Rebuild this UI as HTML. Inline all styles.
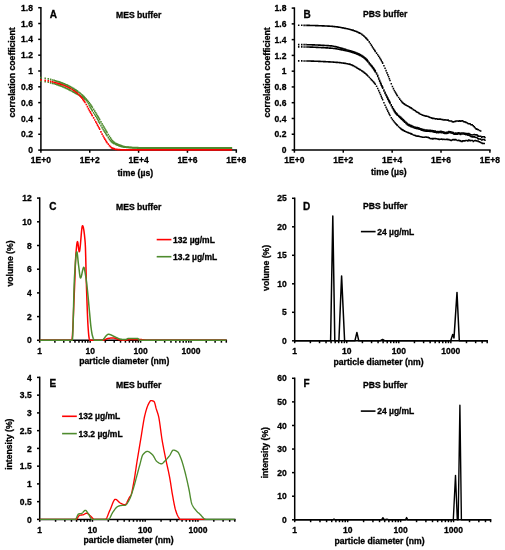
<!DOCTYPE html>
<html><head><meta charset="utf-8"><style>
html,body{margin:0;padding:0;background:#fff;}
svg{display:block;will-change:transform;font-family:'Liberation Sans', sans-serif;font-weight:bold;fill:#000;font-variant-ligatures:none;font-feature-settings:"liga" 0,"clig" 0;}
text{stroke:#000;stroke-width:0.3px;}
</style></head><body>
<svg width="505" height="550" viewBox="0 0 505 550">
<rect width="505" height="550" fill="#fff"/>
<line x1="40.9" y1="6.95" x2="40.9" y2="150.85" stroke="#000" stroke-width="1.5"/>
<line x1="38.2" y1="150.1" x2="40.9" y2="150.1" stroke="#000" stroke-width="1.5"/>
<text x="32.9" y="153.2" text-anchor="end" font-size="8.5" >0</text>
<line x1="38.2" y1="134.28" x2="40.9" y2="134.28" stroke="#000" stroke-width="1.5"/>
<text x="32.9" y="137.38" text-anchor="end" font-size="8.5" >0.2</text>
<line x1="38.2" y1="118.46" x2="40.9" y2="118.46" stroke="#000" stroke-width="1.5"/>
<text x="32.9" y="121.56" text-anchor="end" font-size="8.5" >0.4</text>
<line x1="38.2" y1="102.63" x2="40.9" y2="102.63" stroke="#000" stroke-width="1.5"/>
<text x="32.9" y="105.73" text-anchor="end" font-size="8.5" >0.6</text>
<line x1="38.2" y1="86.81" x2="40.9" y2="86.81" stroke="#000" stroke-width="1.5"/>
<text x="32.9" y="89.91" text-anchor="end" font-size="8.5" >0.8</text>
<line x1="38.2" y1="70.99" x2="40.9" y2="70.99" stroke="#000" stroke-width="1.5"/>
<text x="32.9" y="74.09" text-anchor="end" font-size="8.5" >1</text>
<line x1="38.2" y1="55.17" x2="40.9" y2="55.17" stroke="#000" stroke-width="1.5"/>
<text x="32.9" y="58.27" text-anchor="end" font-size="8.5" >1.2</text>
<line x1="38.2" y1="39.34" x2="40.9" y2="39.34" stroke="#000" stroke-width="1.5"/>
<text x="32.9" y="42.44" text-anchor="end" font-size="8.5" >1.4</text>
<line x1="38.2" y1="23.52" x2="40.9" y2="23.52" stroke="#000" stroke-width="1.5"/>
<text x="32.9" y="26.62" text-anchor="end" font-size="8.5" >1.6</text>
<line x1="38.2" y1="7.7" x2="40.9" y2="7.7" stroke="#000" stroke-width="1.5"/>
<text x="32.9" y="10.8" text-anchor="end" font-size="8.5" >1.8</text>
<line x1="40.15" y1="150.1" x2="237.05" y2="150.1" stroke="#000" stroke-width="1.5"/>
<line x1="40.9" y1="150.1" x2="40.9" y2="152.8" stroke="#000" stroke-width="1.5"/>
<line x1="89.75" y1="150.1" x2="89.75" y2="152.8" stroke="#000" stroke-width="1.5"/>
<line x1="138.6" y1="150.1" x2="138.6" y2="152.8" stroke="#000" stroke-width="1.5"/>
<line x1="187.45" y1="150.1" x2="187.45" y2="152.8" stroke="#000" stroke-width="1.5"/>
<line x1="236.3" y1="150.1" x2="236.3" y2="152.8" stroke="#000" stroke-width="1.5"/>
<text x="40.9" y="163.3" text-anchor="middle" font-size="8.5" >1E+0</text>
<text x="89.75" y="163.3" text-anchor="middle" font-size="8.5" >1E+2</text>
<text x="138.6" y="163.3" text-anchor="middle" font-size="8.5" >1E+4</text>
<text x="187.45" y="163.3" text-anchor="middle" font-size="8.5" >1E+6</text>
<text x="236.3" y="163.3" text-anchor="middle" font-size="8.5" >1E+8</text>
<text x="135.3" y="175.5" text-anchor="middle" font-size="8.65" >time (µs)</text>
<text x="14.9" y="72.4" text-anchor="middle" font-size="8.65" transform="rotate(-90 14.9 72.4)">correlation coefficient</text>
<text x="49.8" y="17.7" text-anchor="start" font-size="10.0" >A</text>
<text x="116" y="17.7" text-anchor="start" font-size="8.6" >MES buffer</text>
<path d="M40.15 80.27h1.5v1.7h-1.5zM44.45 80.8h1.5v1.7h-1.5zM47.5 81.38h1.5v1.7h-1.5zM49.87 81.94h1.5v1.7h-1.5zM51.8 82.45h1.5v1.7h-1.5zM53.44 82.92h1.5v1.7h-1.5zM54.86 83.35h1.5v1.7h-1.5zM56.1 83.75h1.5v1.7h-1.5zM57.22 84.12h1.5v1.7h-1.5zM58.23 84.46h1.5v1.7h-1.5zM59.16 84.78h1.5v1.7h-1.5zM60.01 85.08h1.5v1.7h-1.5zM60.79 85.38h1.5v1.7h-1.5zM61.52 85.67h1.5v1.7h-1.5zM62.21 85.95h1.5v1.7h-1.5zM63.46 86.48h1.5v1.7h-1.5zM64.58 86.99h1.5v1.7h-1.5zM65.59 87.46h1.5v1.7h-1.5zM66.51 87.91h1.5v1.7h-1.5zM67.36 88.33h1.5v1.7h-1.5zM68.14 88.73h1.5v1.7h-1.5zM68.88 89.11h1.5v1.7h-1.5zM69.56 89.47h1.5v1.7h-1.5zM70.81 90.14h1.5v1.7h-1.5zM71.93 90.75h1.5v1.7h-1.5zM72.94 91.3h1.5v1.7h-1.5zM73.86 91.82h1.5v1.7h-1.5zM74.71 92.3h1.5v1.7h-1.5zM75.5 92.74h1.5v1.7h-1.5zM76.23 93.13h1.5v1.7h-1.5zM76.91 93.5h1.5v1.7h-1.5zM78.16 94.17h1.5v1.7h-1.5zM79.28 94.79h1.5v1.7h-1.5zM80.29 95.39h1.5v1.7h-1.5zM81.21 95.97h1.5v1.7h-1.5zM82.06 96.55h1.5v1.7h-1.5zM82.85 97.13h1.5v1.7h-1.5zM83.58 97.72h1.5v1.7h-1.5zM84.27 98.31h1.5v1.7h-1.5zM85.52 99.56h1.5v1.7h-1.5zM86.63 101.15h1.5v1.7h-1.5zM87.64 102.91h1.5v1.7h-1.5zM88.57 104.66h1.5v1.7h-1.5zM89.42 106.26h1.5v1.7h-1.5zM90.2 107.67h1.5v1.7h-1.5zM90.93 108.87h1.5v1.7h-1.5zM91.62 109.97h1.5v1.7h-1.5zM92.87 111.93h1.5v1.7h-1.5zM93.99 113.69h1.5v1.7h-1.5zM95 115.31h1.5v1.7h-1.5zM95.92 116.85h1.5v1.7h-1.5zM96.77 118.34h1.5v1.7h-1.5zM97.55 119.8h1.5v1.7h-1.5zM98.29 121.18h1.5v1.7h-1.5zM98.97 122.49h1.5v1.7h-1.5zM100.22 124.82h1.5v1.7h-1.5zM101.34 126.78h1.5v1.7h-1.5zM102.35 128.49h1.5v1.7h-1.5zM103.27 130.01h1.5v1.7h-1.5zM104.12 131.37h1.5v1.7h-1.5zM104.91 132.61h1.5v1.7h-1.5zM105.64 133.74h1.5v1.7h-1.5zM106.32 134.78h1.5v1.7h-1.5zM107.57 136.7h1.5v1.7h-1.5zM108.69 138.46h1.5v1.7h-1.5zM109.7 139.87h1.5v1.7h-1.5zM110.62 140.85h1.5v1.7h-1.5zM111.47 141.5h1.5v1.7h-1.5zM112.26 142.04h1.5v1.7h-1.5zM112.99 142.49h1.5v1.7h-1.5zM113.68 142.87h1.5v1.7h-1.5zM114.93 143.5h1.5v1.7h-1.5zM116.04 143.98h1.5v1.7h-1.5zM117.05 144.38h1.5v1.7h-1.5zM117.98 144.72h1.5v1.7h-1.5zM118.83 145.02h1.5v1.7h-1.5zM119.61 145.29h1.5v1.7h-1.5zM120.34 145.52h1.5v1.7h-1.5zM121.03 145.72h1.5v1.7h-1.5zM122.28 146.02h1.5v1.7h-1.5zM123.4 146.19h1.5v1.7h-1.5zM124.41 146.31h1.5v1.7h-1.5zM125.33 146.41h1.5v1.7h-1.5zM126.18 146.51h1.5v1.7h-1.5zM126.97 146.59h1.5v1.7h-1.5zM127.7 146.66h1.5v1.7h-1.5zM128.38 146.72h1.5v1.7h-1.5zM129.63 146.82h1.5v1.7h-1.5zM130.75 146.91h1.5v1.7h-1.5zM131.76 146.97h1.5v1.7h-1.5zM132.68 147.03h1.5v1.7h-1.5zM133.53 147.07h1.5v1.7h-1.5zM134.32 147.11h1.5v1.7h-1.5zM135.05 147.13h1.5v1.7h-1.5zM135.73 147.15h1.5v1.7h-1.5zM136.98 147.18h1.5v1.7h-1.5zM138.1 147.2h1.5v1.7h-1.5zM139.11 147.2h1.5v1.7h-1.5zM140.04 147.21h1.5v1.7h-1.5zM140.88 147.22h1.5v1.7h-1.5zM141.67 147.22h1.5v1.7h-1.5zM142.4 147.23h1.5v1.7h-1.5zM143.09 147.23h1.5v1.7h-1.5zM144.34 147.24h1.5v1.7h-1.5zM145.45 147.25h1.5v1.7h-1.5zM146.47 147.26h1.5v1.7h-1.5zM147.39 147.27h1.5v1.7h-1.5zM148.24 147.27h1.5v1.7h-1.5zM149.02 147.28h1.5v1.7h-1.5zM149.76 147.28h1.5v1.7h-1.5zM150.44 147.29h1.5v1.7h-1.5zM151.69 147.3h1.5v1.7h-1.5zM152.81 147.3h1.5v1.7h-1.5zM153.82 147.31h1.5v1.7h-1.5zM154.74 147.31h1.5v1.7h-1.5zM155.59 147.32h1.5v1.7h-1.5zM156.38 147.32h1.5v1.7h-1.5zM157.11 147.33h1.5v1.7h-1.5zM157.79 147.33h1.5v1.7h-1.5zM159.04 147.34h1.5v1.7h-1.5zM160.16 147.35h1.5v1.7h-1.5zM161.17 147.35h1.5v1.7h-1.5zM162.09 147.36h1.5v1.7h-1.5zM162.94 147.36h1.5v1.7h-1.5zM163.73 147.37h1.5v1.7h-1.5zM164.46 147.37h1.5v1.7h-1.5zM165.15 147.37h1.5v1.7h-1.5zM166.39 147.38h1.5v1.7h-1.5zM167.51 147.38h1.5v1.7h-1.5zM168.52 147.39h1.5v1.7h-1.5zM169.45 147.39h1.5v1.7h-1.5zM170.3 147.4h1.5v1.7h-1.5zM171.08 147.4h1.5v1.7h-1.5zM171.81 147.4h1.5v1.7h-1.5zM172.5 147.41h1.5v1.7h-1.5zM173.75 147.41h1.5v1.7h-1.5zM174.86 147.42h1.5v1.7h-1.5zM175.88 147.42h1.5v1.7h-1.5zM176.8 147.42h1.5v1.7h-1.5zM177.65 147.43h1.5v1.7h-1.5zM178.43 147.43h1.5v1.7h-1.5zM179.17 147.43h1.5v1.7h-1.5zM179.85 147.43h1.5v1.7h-1.5zM181.1 147.44h1.5v1.7h-1.5zM182.22 147.44h1.5v1.7h-1.5zM183.23 147.44h1.5v1.7h-1.5zM184.15 147.45h1.5v1.7h-1.5zM185 147.45h1.5v1.7h-1.5zM185.79 147.45h1.5v1.7h-1.5zM186.52 147.45h1.5v1.7h-1.5zM187.2 147.46h1.5v1.7h-1.5zM188.45 147.46h1.5v1.7h-1.5zM189.57 147.46h1.5v1.7h-1.5zM190.58 147.47h1.5v1.7h-1.5zM191.5 147.47h1.5v1.7h-1.5zM192.35 147.47h1.5v1.7h-1.5zM193.14 147.47h1.5v1.7h-1.5zM193.87 147.47h1.5v1.7h-1.5zM194.56 147.47h1.5v1.7h-1.5zM195.81 147.48h1.5v1.7h-1.5zM196.92 147.48h1.5v1.7h-1.5zM197.93 147.48h1.5v1.7h-1.5zM198.86 147.48h1.5v1.7h-1.5zM199.71 147.48h1.5v1.7h-1.5zM200.49 147.49h1.5v1.7h-1.5zM201.22 147.49h1.5v1.7h-1.5zM201.91 147.49h1.5v1.7h-1.5zM203.16 147.49h1.5v1.7h-1.5zM204.28 147.49h1.5v1.7h-1.5zM205.29 147.49h1.5v1.7h-1.5zM206.21 147.49h1.5v1.7h-1.5zM207.06 147.5h1.5v1.7h-1.5zM207.84 147.5h1.5v1.7h-1.5zM208.58 147.5h1.5v1.7h-1.5zM209.26 147.5h1.5v1.7h-1.5zM210.51 147.5h1.5v1.7h-1.5zM211.63 147.5h1.5v1.7h-1.5zM212.64 147.5h1.5v1.7h-1.5zM213.56 147.5h1.5v1.7h-1.5zM214.41 147.5h1.5v1.7h-1.5zM215.2 147.5h1.5v1.7h-1.5zM215.93 147.5h1.5v1.7h-1.5zM216.61 147.51h1.5v1.7h-1.5zM217.86 147.51h1.5v1.7h-1.5zM218.98 147.51h1.5v1.7h-1.5zM219.99 147.51h1.5v1.7h-1.5zM220.91 147.51h1.5v1.7h-1.5zM221.76 147.51h1.5v1.7h-1.5zM222.55 147.51h1.5v1.7h-1.5zM223.28 147.51h1.5v1.7h-1.5zM223.97 147.51h1.5v1.7h-1.5zM225.22 147.51h1.5v1.7h-1.5zM226.33 147.51h1.5v1.7h-1.5zM227.34 147.51h1.5v1.7h-1.5zM228.27 147.51h1.5v1.7h-1.5zM229.12 147.51h1.5v1.7h-1.5zM229.9 147.51h1.5v1.7h-1.5zM230.63 147.51h1.5v1.7h-1.5z" fill="#4e8b2e"/>
<path d="M40.15 79h1.5v1.7h-1.5zM44.45 79.45h1.5v1.7h-1.5zM47.5 79.98h1.5v1.7h-1.5zM49.87 80.49h1.5v1.7h-1.5zM51.8 80.96h1.5v1.7h-1.5zM53.44 81.39h1.5v1.7h-1.5zM54.86 81.78h1.5v1.7h-1.5zM56.1 82.13h1.5v1.7h-1.5zM57.22 82.46h1.5v1.7h-1.5zM58.23 82.76h1.5v1.7h-1.5zM59.16 83.04h1.5v1.7h-1.5zM60.01 83.3h1.5v1.7h-1.5zM60.79 83.56h1.5v1.7h-1.5zM61.52 83.81h1.5v1.7h-1.5zM62.21 84.05h1.5v1.7h-1.5zM63.46 84.53h1.5v1.7h-1.5zM64.58 84.99h1.5v1.7h-1.5zM65.59 85.43h1.5v1.7h-1.5zM66.51 85.86h1.5v1.7h-1.5zM67.36 86.27h1.5v1.7h-1.5zM68.14 86.66h1.5v1.7h-1.5zM68.88 87.05h1.5v1.7h-1.5zM69.56 87.42h1.5v1.7h-1.5zM70.81 88.14h1.5v1.7h-1.5zM71.93 88.82h1.5v1.7h-1.5zM72.94 89.47h1.5v1.7h-1.5zM73.86 90.08h1.5v1.7h-1.5zM74.71 90.67h1.5v1.7h-1.5zM75.5 91.25h1.5v1.7h-1.5zM76.23 91.86h1.5v1.7h-1.5zM76.91 92.48h1.5v1.7h-1.5zM78.16 93.73h1.5v1.7h-1.5zM79.28 94.98h1.5v1.7h-1.5zM80.29 96.2h1.5v1.7h-1.5zM81.21 97.37h1.5v1.7h-1.5zM82.06 98.51h1.5v1.7h-1.5zM82.85 99.59h1.5v1.7h-1.5zM83.58 100.62h1.5v1.7h-1.5zM84.27 101.61h1.5v1.7h-1.5zM85.52 103.63h1.5v1.7h-1.5zM86.63 105.71h1.5v1.7h-1.5zM87.64 107.68h1.5v1.7h-1.5zM88.57 109.44h1.5v1.7h-1.5zM89.42 110.98h1.5v1.7h-1.5zM90.2 112.38h1.5v1.7h-1.5zM90.93 113.68h1.5v1.7h-1.5zM91.62 114.89h1.5v1.7h-1.5zM92.87 117.11h1.5v1.7h-1.5zM93.99 119.13h1.5v1.7h-1.5zM95 120.95h1.5v1.7h-1.5zM95.92 122.62h1.5v1.7h-1.5zM96.77 124.18h1.5v1.7h-1.5zM97.55 125.65h1.5v1.7h-1.5zM98.29 127.04h1.5v1.7h-1.5zM98.97 128.4h1.5v1.7h-1.5zM100.22 130.96h1.5v1.7h-1.5zM101.34 133.23h1.5v1.7h-1.5zM102.35 135.15h1.5v1.7h-1.5zM103.27 136.78h1.5v1.7h-1.5zM104.12 138.26h1.5v1.7h-1.5zM104.91 139.58h1.5v1.7h-1.5zM105.64 140.74h1.5v1.7h-1.5zM106.32 141.74h1.5v1.7h-1.5zM107.57 143.35h1.5v1.7h-1.5zM108.69 144.71h1.5v1.7h-1.5zM109.7 145.83h1.5v1.7h-1.5zM110.62 146.68h1.5v1.7h-1.5zM111.47 147.25h1.5v1.7h-1.5zM112.26 147.59h1.5v1.7h-1.5zM112.99 147.87h1.5v1.7h-1.5zM113.68 148.1h1.5v1.7h-1.5zM114.93 148.43h1.5v1.7h-1.5zM116.04 148.6h1.5v1.7h-1.5zM117.05 148.7h1.5v1.7h-1.5zM117.98 148.77h1.5v1.7h-1.5zM118.83 148.84h1.5v1.7h-1.5zM119.61 148.89h1.5v1.7h-1.5zM120.34 148.93h1.5v1.7h-1.5zM121.03 148.97h1.5v1.7h-1.5zM122.28 149.03h1.5v1.7h-1.5zM123.4 149.06h1.5v1.7h-1.5zM124.41 149.08h1.5v1.7h-1.5zM125.33 149.09h1.5v1.7h-1.5zM126.18 149.09h1.5v1.7h-1.5zM126.97 149.09h1.5v1.7h-1.5zM127.7 149.09h1.5v1.7h-1.5zM128.38 149.09h1.5v1.7h-1.5zM129.63 149.09h1.5v1.7h-1.5zM130.75 149.09h1.5v1.7h-1.5zM131.76 149.09h1.5v1.7h-1.5zM132.68 149.09h1.5v1.7h-1.5zM133.53 149.09h1.5v1.7h-1.5zM134.32 149.09h1.5v1.7h-1.5zM135.05 149.09h1.5v1.7h-1.5zM135.73 149.09h1.5v1.7h-1.5zM136.98 149.09h1.5v1.7h-1.5zM138.1 149.09h1.5v1.7h-1.5zM139.11 149.09h1.5v1.7h-1.5zM140.04 149.09h1.5v1.7h-1.5zM140.88 149.09h1.5v1.7h-1.5zM141.67 149.09h1.5v1.7h-1.5zM142.4 149.09h1.5v1.7h-1.5zM143.09 149.09h1.5v1.7h-1.5zM144.34 149.09h1.5v1.7h-1.5zM145.45 149.09h1.5v1.7h-1.5zM146.47 149.09h1.5v1.7h-1.5zM147.39 149.09h1.5v1.7h-1.5zM148.24 149.09h1.5v1.7h-1.5zM149.02 149.09h1.5v1.7h-1.5zM149.76 149.09h1.5v1.7h-1.5zM150.44 149.09h1.5v1.7h-1.5zM151.69 149.09h1.5v1.7h-1.5zM152.81 149.09h1.5v1.7h-1.5zM153.82 149.09h1.5v1.7h-1.5zM154.74 149.09h1.5v1.7h-1.5zM155.59 149.09h1.5v1.7h-1.5zM156.38 149.09h1.5v1.7h-1.5zM157.11 149.09h1.5v1.7h-1.5zM157.79 149.09h1.5v1.7h-1.5zM159.04 149.09h1.5v1.7h-1.5zM160.16 149.09h1.5v1.7h-1.5zM161.17 149.09h1.5v1.7h-1.5zM162.09 149.09h1.5v1.7h-1.5zM162.94 149.09h1.5v1.7h-1.5zM163.73 149.09h1.5v1.7h-1.5zM164.46 149.09h1.5v1.7h-1.5zM165.15 149.09h1.5v1.7h-1.5zM166.39 149.09h1.5v1.7h-1.5zM167.51 149.09h1.5v1.7h-1.5zM168.52 149.09h1.5v1.7h-1.5zM169.45 149.09h1.5v1.7h-1.5zM170.3 149.09h1.5v1.7h-1.5zM171.08 149.09h1.5v1.7h-1.5zM171.81 149.09h1.5v1.7h-1.5zM172.5 149.09h1.5v1.7h-1.5zM173.75 149.09h1.5v1.7h-1.5zM174.86 149.09h1.5v1.7h-1.5zM175.88 149.09h1.5v1.7h-1.5zM176.8 149.09h1.5v1.7h-1.5zM177.65 149.09h1.5v1.7h-1.5zM178.43 149.09h1.5v1.7h-1.5zM179.17 149.09h1.5v1.7h-1.5zM179.85 149.09h1.5v1.7h-1.5zM181.1 149.09h1.5v1.7h-1.5zM182.22 149.09h1.5v1.7h-1.5zM183.23 149.09h1.5v1.7h-1.5zM184.15 149.09h1.5v1.7h-1.5zM185 149.09h1.5v1.7h-1.5zM185.79 149.09h1.5v1.7h-1.5zM186.52 149.09h1.5v1.7h-1.5zM187.2 149.09h1.5v1.7h-1.5zM188.45 149.09h1.5v1.7h-1.5zM189.57 149.09h1.5v1.7h-1.5zM190.58 149.09h1.5v1.7h-1.5zM191.5 149.09h1.5v1.7h-1.5zM192.35 149.09h1.5v1.7h-1.5zM193.14 149.09h1.5v1.7h-1.5zM193.87 149.09h1.5v1.7h-1.5zM194.56 149.09h1.5v1.7h-1.5zM195.81 149.09h1.5v1.7h-1.5zM196.92 149.09h1.5v1.7h-1.5zM197.93 149.09h1.5v1.7h-1.5zM198.86 149.09h1.5v1.7h-1.5zM199.71 149.09h1.5v1.7h-1.5zM200.49 149.09h1.5v1.7h-1.5zM201.22 149.09h1.5v1.7h-1.5zM201.91 149.09h1.5v1.7h-1.5zM203.16 149.09h1.5v1.7h-1.5zM204.28 149.09h1.5v1.7h-1.5zM205.29 149.09h1.5v1.7h-1.5zM206.21 149.09h1.5v1.7h-1.5zM207.06 149.09h1.5v1.7h-1.5zM207.84 149.09h1.5v1.7h-1.5zM208.58 149.09h1.5v1.7h-1.5zM209.26 149.09h1.5v1.7h-1.5zM210.51 149.09h1.5v1.7h-1.5zM211.63 149.09h1.5v1.7h-1.5zM212.64 149.09h1.5v1.7h-1.5zM213.56 149.09h1.5v1.7h-1.5zM214.41 149.09h1.5v1.7h-1.5zM215.2 149.09h1.5v1.7h-1.5zM215.93 149.09h1.5v1.7h-1.5zM216.61 149.09h1.5v1.7h-1.5zM217.86 149.09h1.5v1.7h-1.5zM218.98 149.09h1.5v1.7h-1.5zM219.99 149.09h1.5v1.7h-1.5zM220.91 149.09h1.5v1.7h-1.5zM221.76 149.09h1.5v1.7h-1.5zM222.55 149.09h1.5v1.7h-1.5zM223.28 149.09h1.5v1.7h-1.5zM223.97 149.09h1.5v1.7h-1.5zM225.22 149.09h1.5v1.7h-1.5zM226.33 149.09h1.5v1.7h-1.5zM227.34 149.09h1.5v1.7h-1.5zM228.27 149.09h1.5v1.7h-1.5zM229.12 149.09h1.5v1.7h-1.5zM229.9 149.09h1.5v1.7h-1.5zM230.63 149.09h1.5v1.7h-1.5z" fill="#ff0000"/>
<path d="M40.15 76.78h1.5v1.7h-1.5zM44.45 77.41h1.5v1.7h-1.5zM47.5 78.04h1.5v1.7h-1.5zM49.87 78.61h1.5v1.7h-1.5zM51.8 79.13h1.5v1.7h-1.5zM53.44 79.59h1.5v1.7h-1.5zM54.86 80.01h1.5v1.7h-1.5zM56.1 80.4h1.5v1.7h-1.5zM57.22 80.75h1.5v1.7h-1.5zM58.23 81.07h1.5v1.7h-1.5zM59.16 81.37h1.5v1.7h-1.5zM60.01 81.66h1.5v1.7h-1.5zM60.79 81.94h1.5v1.7h-1.5zM61.52 82.21h1.5v1.7h-1.5zM62.21 82.47h1.5v1.7h-1.5zM63.46 82.98h1.5v1.7h-1.5zM64.58 83.46h1.5v1.7h-1.5zM65.59 83.92h1.5v1.7h-1.5zM66.51 84.36h1.5v1.7h-1.5zM67.36 84.77h1.5v1.7h-1.5zM68.14 85.17h1.5v1.7h-1.5zM68.88 85.55h1.5v1.7h-1.5zM69.56 85.92h1.5v1.7h-1.5zM70.81 86.61h1.5v1.7h-1.5zM71.93 87.25h1.5v1.7h-1.5zM72.94 87.85h1.5v1.7h-1.5zM73.86 88.42h1.5v1.7h-1.5zM74.71 88.95h1.5v1.7h-1.5zM75.5 89.46h1.5v1.7h-1.5zM76.23 89.96h1.5v1.7h-1.5zM76.91 90.45h1.5v1.7h-1.5zM78.16 91.39h1.5v1.7h-1.5zM79.28 92.29h1.5v1.7h-1.5zM80.29 93.15h1.5v1.7h-1.5zM81.21 93.97h1.5v1.7h-1.5zM82.06 94.76h1.5v1.7h-1.5zM82.85 95.52h1.5v1.7h-1.5zM83.58 96.24h1.5v1.7h-1.5zM84.27 96.94h1.5v1.7h-1.5zM85.52 98.26h1.5v1.7h-1.5zM86.63 99.5h1.5v1.7h-1.5zM87.64 100.72h1.5v1.7h-1.5zM88.57 101.95h1.5v1.7h-1.5zM89.42 103.15h1.5v1.7h-1.5zM90.2 104.32h1.5v1.7h-1.5zM90.93 105.43h1.5v1.7h-1.5zM91.62 106.49h1.5v1.7h-1.5zM92.87 108.43h1.5v1.7h-1.5zM93.99 110.22h1.5v1.7h-1.5zM95 111.9h1.5v1.7h-1.5zM95.92 113.48h1.5v1.7h-1.5zM96.77 114.94h1.5v1.7h-1.5zM97.55 116.3h1.5v1.7h-1.5zM98.29 117.56h1.5v1.7h-1.5zM98.97 118.75h1.5v1.7h-1.5zM100.22 120.96h1.5v1.7h-1.5zM101.34 122.95h1.5v1.7h-1.5zM102.35 124.73h1.5v1.7h-1.5zM103.27 126.33h1.5v1.7h-1.5zM104.12 127.8h1.5v1.7h-1.5zM104.91 129.17h1.5v1.7h-1.5zM105.64 130.43h1.5v1.7h-1.5zM106.32 131.59h1.5v1.7h-1.5zM107.57 133.66h1.5v1.7h-1.5zM108.69 135.4h1.5v1.7h-1.5zM109.7 137h1.5v1.7h-1.5zM110.62 138.45h1.5v1.7h-1.5zM111.47 139.65h1.5v1.7h-1.5zM112.26 140.56h1.5v1.7h-1.5zM112.99 141.17h1.5v1.7h-1.5zM113.68 141.66h1.5v1.7h-1.5zM114.93 142.44h1.5v1.7h-1.5zM116.04 143.04h1.5v1.7h-1.5zM117.05 143.52h1.5v1.7h-1.5zM117.98 143.91h1.5v1.7h-1.5zM118.83 144.24h1.5v1.7h-1.5zM119.61 144.52h1.5v1.7h-1.5zM120.34 144.77h1.5v1.7h-1.5zM121.03 145.01h1.5v1.7h-1.5zM122.28 145.42h1.5v1.7h-1.5zM123.4 145.74h1.5v1.7h-1.5zM124.41 145.97h1.5v1.7h-1.5zM125.33 146.13h1.5v1.7h-1.5zM126.18 146.22h1.5v1.7h-1.5zM126.97 146.3h1.5v1.7h-1.5zM127.7 146.36h1.5v1.7h-1.5zM128.38 146.42h1.5v1.7h-1.5zM129.63 146.53h1.5v1.7h-1.5zM130.75 146.61h1.5v1.7h-1.5zM131.76 146.67h1.5v1.7h-1.5zM132.68 146.72h1.5v1.7h-1.5zM133.53 146.76h1.5v1.7h-1.5zM134.32 146.8h1.5v1.7h-1.5zM135.05 146.82h1.5v1.7h-1.5zM135.73 146.84h1.5v1.7h-1.5zM136.98 146.87h1.5v1.7h-1.5zM138.1 146.88h1.5v1.7h-1.5zM139.11 146.88h1.5v1.7h-1.5zM140.04 146.89h1.5v1.7h-1.5zM140.88 146.9h1.5v1.7h-1.5zM141.67 146.9h1.5v1.7h-1.5zM142.4 146.9h1.5v1.7h-1.5zM143.09 146.91h1.5v1.7h-1.5zM144.34 146.92h1.5v1.7h-1.5zM145.45 146.92h1.5v1.7h-1.5zM146.47 146.93h1.5v1.7h-1.5zM147.39 146.93h1.5v1.7h-1.5zM148.24 146.94h1.5v1.7h-1.5zM149.02 146.94h1.5v1.7h-1.5zM149.76 146.95h1.5v1.7h-1.5zM150.44 146.95h1.5v1.7h-1.5zM151.69 146.96h1.5v1.7h-1.5zM152.81 146.96h1.5v1.7h-1.5zM153.82 146.97h1.5v1.7h-1.5zM154.74 146.97h1.5v1.7h-1.5zM155.59 146.97h1.5v1.7h-1.5zM156.38 146.98h1.5v1.7h-1.5zM157.11 146.98h1.5v1.7h-1.5zM157.79 146.98h1.5v1.7h-1.5zM159.04 146.99h1.5v1.7h-1.5zM160.16 146.99h1.5v1.7h-1.5zM161.17 147h1.5v1.7h-1.5zM162.09 147h1.5v1.7h-1.5zM162.94 147h1.5v1.7h-1.5zM163.73 147.01h1.5v1.7h-1.5zM164.46 147.01h1.5v1.7h-1.5zM165.15 147.01h1.5v1.7h-1.5zM166.39 147.02h1.5v1.7h-1.5zM167.51 147.02h1.5v1.7h-1.5zM168.52 147.03h1.5v1.7h-1.5zM169.45 147.03h1.5v1.7h-1.5zM170.3 147.03h1.5v1.7h-1.5zM171.08 147.03h1.5v1.7h-1.5zM171.81 147.04h1.5v1.7h-1.5zM172.5 147.04h1.5v1.7h-1.5zM173.75 147.04h1.5v1.7h-1.5zM174.86 147.05h1.5v1.7h-1.5zM175.88 147.05h1.5v1.7h-1.5zM176.8 147.05h1.5v1.7h-1.5zM177.65 147.05h1.5v1.7h-1.5zM178.43 147.06h1.5v1.7h-1.5zM179.17 147.06h1.5v1.7h-1.5zM179.85 147.06h1.5v1.7h-1.5zM181.1 147.06h1.5v1.7h-1.5zM182.22 147.06h1.5v1.7h-1.5zM183.23 147.07h1.5v1.7h-1.5zM184.15 147.07h1.5v1.7h-1.5zM185 147.07h1.5v1.7h-1.5zM185.79 147.07h1.5v1.7h-1.5zM186.52 147.07h1.5v1.7h-1.5zM187.2 147.08h1.5v1.7h-1.5zM188.45 147.08h1.5v1.7h-1.5zM189.57 147.08h1.5v1.7h-1.5zM190.58 147.08h1.5v1.7h-1.5zM191.5 147.08h1.5v1.7h-1.5zM192.35 147.09h1.5v1.7h-1.5zM193.14 147.09h1.5v1.7h-1.5zM193.87 147.09h1.5v1.7h-1.5zM194.56 147.09h1.5v1.7h-1.5zM195.81 147.09h1.5v1.7h-1.5zM196.92 147.09h1.5v1.7h-1.5zM197.93 147.09h1.5v1.7h-1.5zM198.86 147.1h1.5v1.7h-1.5zM199.71 147.1h1.5v1.7h-1.5zM200.49 147.1h1.5v1.7h-1.5zM201.22 147.1h1.5v1.7h-1.5zM201.91 147.1h1.5v1.7h-1.5zM203.16 147.1h1.5v1.7h-1.5zM204.28 147.1h1.5v1.7h-1.5zM205.29 147.1h1.5v1.7h-1.5zM206.21 147.1h1.5v1.7h-1.5zM207.06 147.1h1.5v1.7h-1.5zM207.84 147.11h1.5v1.7h-1.5zM208.58 147.11h1.5v1.7h-1.5zM209.26 147.11h1.5v1.7h-1.5zM210.51 147.11h1.5v1.7h-1.5zM211.63 147.11h1.5v1.7h-1.5zM212.64 147.11h1.5v1.7h-1.5zM213.56 147.11h1.5v1.7h-1.5zM214.41 147.11h1.5v1.7h-1.5zM215.2 147.11h1.5v1.7h-1.5zM215.93 147.11h1.5v1.7h-1.5zM216.61 147.11h1.5v1.7h-1.5zM217.86 147.11h1.5v1.7h-1.5zM218.98 147.11h1.5v1.7h-1.5zM219.99 147.11h1.5v1.7h-1.5zM220.91 147.11h1.5v1.7h-1.5zM221.76 147.11h1.5v1.7h-1.5zM222.55 147.11h1.5v1.7h-1.5zM223.28 147.11h1.5v1.7h-1.5zM223.97 147.11h1.5v1.7h-1.5zM225.22 147.11h1.5v1.7h-1.5zM226.33 147.11h1.5v1.7h-1.5zM227.34 147.11h1.5v1.7h-1.5zM228.27 147.11h1.5v1.7h-1.5zM229.12 147.11h1.5v1.7h-1.5zM229.9 147.11h1.5v1.7h-1.5zM230.63 147.11h1.5v1.7h-1.5z" fill="#4e8b2e"/>
<line x1="294.4" y1="7.35" x2="294.4" y2="150.75" stroke="#000" stroke-width="1.5"/>
<line x1="291.7" y1="150" x2="294.4" y2="150" stroke="#000" stroke-width="1.5"/>
<text x="286.4" y="153.1" text-anchor="end" font-size="8.5" >0</text>
<line x1="291.7" y1="134.23" x2="294.4" y2="134.23" stroke="#000" stroke-width="1.5"/>
<text x="286.4" y="137.33" text-anchor="end" font-size="8.5" >0.2</text>
<line x1="291.7" y1="118.47" x2="294.4" y2="118.47" stroke="#000" stroke-width="1.5"/>
<text x="286.4" y="121.57" text-anchor="end" font-size="8.5" >0.4</text>
<line x1="291.7" y1="102.7" x2="294.4" y2="102.7" stroke="#000" stroke-width="1.5"/>
<text x="286.4" y="105.8" text-anchor="end" font-size="8.5" >0.6</text>
<line x1="291.7" y1="86.93" x2="294.4" y2="86.93" stroke="#000" stroke-width="1.5"/>
<text x="286.4" y="90.03" text-anchor="end" font-size="8.5" >0.8</text>
<line x1="291.7" y1="71.17" x2="294.4" y2="71.17" stroke="#000" stroke-width="1.5"/>
<text x="286.4" y="74.27" text-anchor="end" font-size="8.5" >1</text>
<line x1="291.7" y1="55.4" x2="294.4" y2="55.4" stroke="#000" stroke-width="1.5"/>
<text x="286.4" y="58.5" text-anchor="end" font-size="8.5" >1.2</text>
<line x1="291.7" y1="39.63" x2="294.4" y2="39.63" stroke="#000" stroke-width="1.5"/>
<text x="286.4" y="42.73" text-anchor="end" font-size="8.5" >1.4</text>
<line x1="291.7" y1="23.87" x2="294.4" y2="23.87" stroke="#000" stroke-width="1.5"/>
<text x="286.4" y="26.97" text-anchor="end" font-size="8.5" >1.6</text>
<line x1="291.7" y1="8.1" x2="294.4" y2="8.1" stroke="#000" stroke-width="1.5"/>
<text x="286.4" y="11.2" text-anchor="end" font-size="8.5" >1.8</text>
<line x1="293.65" y1="150" x2="490.65" y2="150" stroke="#000" stroke-width="1.5"/>
<line x1="294.4" y1="150" x2="294.4" y2="152.7" stroke="#000" stroke-width="1.5"/>
<line x1="343.27" y1="150" x2="343.27" y2="152.7" stroke="#000" stroke-width="1.5"/>
<line x1="392.15" y1="150" x2="392.15" y2="152.7" stroke="#000" stroke-width="1.5"/>
<line x1="441.02" y1="150" x2="441.02" y2="152.7" stroke="#000" stroke-width="1.5"/>
<line x1="489.9" y1="150" x2="489.9" y2="152.7" stroke="#000" stroke-width="1.5"/>
<text x="294.4" y="163.2" text-anchor="middle" font-size="8.5" >1E+0</text>
<text x="343.27" y="163.2" text-anchor="middle" font-size="8.5" >1E+2</text>
<text x="392.15" y="163.2" text-anchor="middle" font-size="8.5" >1E+4</text>
<text x="441.02" y="163.2" text-anchor="middle" font-size="8.5" >1E+6</text>
<text x="489.9" y="163.2" text-anchor="middle" font-size="8.5" >1E+8</text>
<text x="388.8" y="175.4" text-anchor="middle" font-size="8.65" >time (µs)</text>
<text x="270.5" y="72.4" text-anchor="middle" font-size="8.65" transform="rotate(-90 270.5 72.4)">correlation coefficient</text>
<text x="303.4" y="17.7" text-anchor="start" font-size="10.0" >B</text>
<text x="363" y="17.2" text-anchor="start" font-size="8.6" >PBS buffer</text>
<path d="M297.95 24.5h1.5v1.6h-1.5zM301.01 24.51h1.5v1.6h-1.5zM303.37 24.53h1.5v1.6h-1.5zM305.31 24.56h1.5v1.6h-1.5zM306.95 24.59h1.5v1.6h-1.5zM308.36 24.61h1.5v1.6h-1.5zM309.61 24.64h1.5v1.6h-1.5zM310.73 24.67h1.5v1.6h-1.5zM311.74 24.69h1.5v1.6h-1.5zM312.67 24.72h1.5v1.6h-1.5zM313.52 24.75h1.5v1.6h-1.5zM314.3 24.77h1.5v1.6h-1.5zM315.03 24.79h1.5v1.6h-1.5zM315.72 24.82h1.5v1.6h-1.5zM316.97 24.86h1.5v1.6h-1.5zM318.09 24.9h1.5v1.6h-1.5zM319.1 24.94h1.5v1.6h-1.5zM320.02 24.97h1.5v1.6h-1.5zM320.87 25.01h1.5v1.6h-1.5zM321.66 25.04h1.5v1.6h-1.5zM322.39 25.07h1.5v1.6h-1.5zM323.08 25.1h1.5v1.6h-1.5zM324.33 25.16h1.5v1.6h-1.5zM325.44 25.21h1.5v1.6h-1.5zM326.46 25.26h1.5v1.6h-1.5zM327.38 25.31h1.5v1.6h-1.5zM328.23 25.35h1.5v1.6h-1.5zM329.01 25.39h1.5v1.6h-1.5zM329.75 25.43h1.5v1.6h-1.5zM330.43 25.47h1.5v1.6h-1.5zM331.68 25.57h1.5v1.6h-1.5zM332.8 25.67h1.5v1.6h-1.5zM333.81 25.78h1.5v1.6h-1.5zM334.74 25.89h1.5v1.6h-1.5zM335.58 26h1.5v1.6h-1.5zM336.37 26.11h1.5v1.6h-1.5zM337.1 26.22h1.5v1.6h-1.5zM337.79 26.32h1.5v1.6h-1.5zM339.04 26.52h1.5v1.6h-1.5zM340.16 26.72h1.5v1.6h-1.5zM341.17 26.9h1.5v1.6h-1.5zM342.09 27.08h1.5v1.6h-1.5zM342.94 27.24h1.5v1.6h-1.5zM343.73 27.4h1.5v1.6h-1.5zM344.46 27.55h1.5v1.6h-1.5zM345.14 27.69h1.5v1.6h-1.5zM346.39 27.96h1.5v1.6h-1.5zM347.51 28.2h1.5v1.6h-1.5zM348.52 28.44h1.5v1.6h-1.5zM349.45 28.68h1.5v1.6h-1.5zM350.3 28.91h1.5v1.6h-1.5zM351.08 29.14h1.5v1.6h-1.5zM351.82 29.37h1.5v1.6h-1.5zM352.5 29.59h1.5v1.6h-1.5zM353.75 30.03h1.5v1.6h-1.5zM354.87 30.45h1.5v1.6h-1.5zM355.88 30.86h1.5v1.6h-1.5zM356.8 31.26h1.5v1.6h-1.5zM357.65 31.65h1.5v1.6h-1.5zM358.44 32.03h1.5v1.6h-1.5zM359.17 32.4h1.5v1.6h-1.5zM359.86 32.77h1.5v1.6h-1.5zM361.11 33.57h1.5v1.6h-1.5zM362.23 34.44h1.5v1.6h-1.5zM363.24 35.32h1.5v1.6h-1.5zM364.16 36.19h1.5v1.6h-1.5zM365.01 37.05h1.5v1.6h-1.5zM365.8 37.87h1.5v1.6h-1.5zM366.53 38.67h1.5v1.6h-1.5zM367.21 39.45h1.5v1.6h-1.5zM368.46 41.1h1.5v1.6h-1.5zM369.58 42.74h1.5v1.6h-1.5zM370.59 44.33h1.5v1.6h-1.5zM371.52 45.81h1.5v1.6h-1.5zM372.37 47.18h1.5v1.6h-1.5zM373.15 48.43h1.5v1.6h-1.5zM373.89 49.55h1.5v1.6h-1.5zM374.57 50.57h1.5v1.6h-1.5zM375.82 52.37h1.5v1.6h-1.5zM376.94 53.98h1.5v1.6h-1.5zM377.95 55.46h1.5v1.6h-1.5zM378.87 56.87h1.5v1.6h-1.5zM379.72 58.24h1.5v1.6h-1.5zM380.51 59.59h1.5v1.6h-1.5zM381.24 60.93h1.5v1.6h-1.5zM381.93 62.28h1.5v1.6h-1.5zM383.18 64.94h1.5v1.6h-1.5zM384.3 67.49h1.5v1.6h-1.5zM385.31 69.87h1.5v1.6h-1.5zM386.23 72.07h1.5v1.6h-1.5zM387.08 74.1h1.5v1.6h-1.5zM387.87 76h1.5v1.6h-1.5zM388.6 77.88h1.5v1.6h-1.5zM389.28 79.68h1.5v1.6h-1.5zM390.53 82.95h1.5v1.6h-1.5zM391.65 85.68h1.5v1.6h-1.5zM392.66 87.84h1.5v1.6h-1.5zM393.59 89.64h1.5v1.6h-1.5zM394.44 91.21h1.5v1.6h-1.5zM395.22 92.59h1.5v1.6h-1.5zM395.95 93.81h1.5v1.6h-1.5zM396.64 94.88h1.5v1.6h-1.5zM397.89 96.76h1.5v1.6h-1.5zM399.01 98.34h1.5v1.6h-1.5zM400.02 99.7h1.5v1.6h-1.5zM400.94 100.87h1.5v1.6h-1.5zM401.79 101.83h1.5v1.6h-1.5zM402.58 102.52h1.5v1.6h-1.5zM403.31 103.09h1.5v1.6h-1.5zM404 103.59h1.5v1.6h-1.5zM405.25 104.3h1.5v1.6h-1.5zM406.36 104.94h1.5v1.6h-1.5zM407.38 105.38h1.5v1.6h-1.5zM408.3 105.93h1.5v1.6h-1.5zM409.15 106.55h1.5v1.6h-1.5zM409.94 107.02h1.5v1.6h-1.5zM410.67 107.31h1.5v1.6h-1.5zM411.35 107.89h1.5v1.6h-1.5zM412.6 108.86h1.5v1.6h-1.5zM413.72 109.39h1.5v1.6h-1.5zM414.73 110.1h1.5v1.6h-1.5zM415.66 110.99h1.5v1.6h-1.5zM416.51 111.45h1.5v1.6h-1.5zM417.29 111.68h1.5v1.6h-1.5zM418.02 112.21h1.5v1.6h-1.5zM418.71 112.8h1.5v1.6h-1.5zM419.96 113.38h1.5v1.6h-1.5zM421.08 114h1.5v1.6h-1.5zM422.09 114.45h1.5v1.6h-1.5zM423.01 114.74h1.5v1.6h-1.5zM423.86 114.95h1.5v1.6h-1.5zM424.65 115.15h1.5v1.6h-1.5zM425.38 115.35h1.5v1.6h-1.5zM426.07 115.44h1.5v1.6h-1.5zM427.32 115.77h1.5v1.6h-1.5zM428.43 116.32h1.5v1.6h-1.5zM429.45 116.71h1.5v1.6h-1.5zM430.37 116.93h1.5v1.6h-1.5zM431.22 117.37h1.5v1.6h-1.5zM432 117.65h1.5v1.6h-1.5zM432.74 117.54h1.5v1.6h-1.5zM433.42 117.75h1.5v1.6h-1.5zM434.67 118.05h1.5v1.6h-1.5zM435.79 117.97h1.5v1.6h-1.5zM436.8 118.37h1.5v1.6h-1.5zM437.73 118.47h1.5v1.6h-1.5zM438.57 118.34h1.5v1.6h-1.5zM439.36 118.24h1.5v1.6h-1.5zM440.09 118.49h1.5v1.6h-1.5zM440.78 118.74h1.5v1.6h-1.5zM442.03 118.79h1.5v1.6h-1.5zM443.15 119.18h1.5v1.6h-1.5zM444.16 119.05h1.5v1.6h-1.5zM445.08 119.23h1.5v1.6h-1.5zM445.93 119.17h1.5v1.6h-1.5zM446.72 119.44h1.5v1.6h-1.5zM447.45 119.34h1.5v1.6h-1.5zM448.13 119.91h1.5v1.6h-1.5zM449.38 120.17h1.5v1.6h-1.5zM450.5 120.2h1.5v1.6h-1.5zM451.51 120.78h1.5v1.6h-1.5zM452.44 121.03h1.5v1.6h-1.5zM453.29 120.88h1.5v1.6h-1.5zM454.07 120.72h1.5v1.6h-1.5zM454.81 120.57h1.5v1.6h-1.5zM455.49 120.14h1.5v1.6h-1.5zM456.74 120.13h1.5v1.6h-1.5zM457.86 120.37h1.5v1.6h-1.5zM458.87 120.05h1.5v1.6h-1.5zM459.79 120.33h1.5v1.6h-1.5zM460.64 120.22h1.5v1.6h-1.5zM461.43 120h1.5v1.6h-1.5zM462.16 120.18h1.5v1.6h-1.5zM462.85 120.99h1.5v1.6h-1.5zM464.1 121.1h1.5v1.6h-1.5zM465.22 121.54h1.5v1.6h-1.5zM466.23 121.88h1.5v1.6h-1.5zM467.15 122.73h1.5v1.6h-1.5zM468 122.94h1.5v1.6h-1.5zM468.79 122.92h1.5v1.6h-1.5zM469.52 123.2h1.5v1.6h-1.5zM470.2 124.02h1.5v1.6h-1.5zM471.45 124.12h1.5v1.6h-1.5zM472.57 125.03h1.5v1.6h-1.5zM473.58 126.09h1.5v1.6h-1.5zM474.51 127.27h1.5v1.6h-1.5zM475.36 128.07h1.5v1.6h-1.5zM476.14 128.3h1.5v1.6h-1.5zM476.88 128.74h1.5v1.6h-1.5zM477.56 128.9h1.5v1.6h-1.5zM478.81 129.7h1.5v1.6h-1.5zM479.93 130.25h1.5v1.6h-1.5z" fill="#000"/>
<path d="M297.95 43.8h1.5v1.6h-1.5zM301.01 43.81h1.5v1.6h-1.5zM303.37 43.84h1.5v1.6h-1.5zM305.31 43.87h1.5v1.6h-1.5zM306.95 43.91h1.5v1.6h-1.5zM308.36 43.95h1.5v1.6h-1.5zM309.61 43.98h1.5v1.6h-1.5zM310.73 44.02h1.5v1.6h-1.5zM311.74 44.05h1.5v1.6h-1.5zM312.67 44.09h1.5v1.6h-1.5zM313.52 44.12h1.5v1.6h-1.5zM314.3 44.15h1.5v1.6h-1.5zM315.03 44.18h1.5v1.6h-1.5zM315.72 44.21h1.5v1.6h-1.5zM316.97 44.27h1.5v1.6h-1.5zM318.09 44.32h1.5v1.6h-1.5zM319.1 44.37h1.5v1.6h-1.5zM320.02 44.42h1.5v1.6h-1.5zM320.87 44.47h1.5v1.6h-1.5zM321.66 44.51h1.5v1.6h-1.5zM322.39 44.55h1.5v1.6h-1.5zM323.08 44.6h1.5v1.6h-1.5zM324.33 44.67h1.5v1.6h-1.5zM325.44 44.74h1.5v1.6h-1.5zM326.46 44.81h1.5v1.6h-1.5zM327.38 44.87h1.5v1.6h-1.5zM328.23 44.93h1.5v1.6h-1.5zM329.01 44.98h1.5v1.6h-1.5zM329.75 45.04h1.5v1.6h-1.5zM330.43 45.11h1.5v1.6h-1.5zM331.68 45.27h1.5v1.6h-1.5zM332.8 45.45h1.5v1.6h-1.5zM333.81 45.65h1.5v1.6h-1.5zM334.74 45.84h1.5v1.6h-1.5zM335.58 46.04h1.5v1.6h-1.5zM336.37 46.24h1.5v1.6h-1.5zM337.1 46.43h1.5v1.6h-1.5zM337.79 46.61h1.5v1.6h-1.5zM339.04 46.96h1.5v1.6h-1.5zM340.16 47.29h1.5v1.6h-1.5zM341.17 47.59h1.5v1.6h-1.5zM342.09 47.87h1.5v1.6h-1.5zM342.94 48.13h1.5v1.6h-1.5zM343.73 48.37h1.5v1.6h-1.5zM344.46 48.59h1.5v1.6h-1.5zM345.14 48.79h1.5v1.6h-1.5zM346.39 49.16h1.5v1.6h-1.5zM347.51 49.47h1.5v1.6h-1.5zM348.52 49.76h1.5v1.6h-1.5zM349.45 50.02h1.5v1.6h-1.5zM350.3 50.27h1.5v1.6h-1.5zM351.08 50.5h1.5v1.6h-1.5zM351.82 50.73h1.5v1.6h-1.5zM352.5 50.94h1.5v1.6h-1.5zM353.75 51.36h1.5v1.6h-1.5zM354.87 51.76h1.5v1.6h-1.5zM355.88 52.14h1.5v1.6h-1.5zM356.8 52.52h1.5v1.6h-1.5zM357.65 52.89h1.5v1.6h-1.5zM358.44 53.26h1.5v1.6h-1.5zM359.17 53.63h1.5v1.6h-1.5zM359.86 54h1.5v1.6h-1.5zM361.11 54.74h1.5v1.6h-1.5zM362.23 55.47h1.5v1.6h-1.5zM363.24 56.19h1.5v1.6h-1.5zM364.16 56.91h1.5v1.6h-1.5zM365.01 57.63h1.5v1.6h-1.5zM365.8 58.43h1.5v1.6h-1.5zM366.53 59.29h1.5v1.6h-1.5zM367.21 60.16h1.5v1.6h-1.5zM368.46 61.8h1.5v1.6h-1.5zM369.58 63.21h1.5v1.6h-1.5zM370.59 64.44h1.5v1.6h-1.5zM371.52 65.59h1.5v1.6h-1.5zM372.37 66.71h1.5v1.6h-1.5zM373.15 67.85h1.5v1.6h-1.5zM373.89 68.96h1.5v1.6h-1.5zM374.57 70.06h1.5v1.6h-1.5zM375.82 72.26h1.5v1.6h-1.5zM376.94 74.56h1.5v1.6h-1.5zM377.95 77.16h1.5v1.6h-1.5zM378.87 79.49h1.5v1.6h-1.5zM379.72 81.48h1.5v1.6h-1.5zM380.51 83.28h1.5v1.6h-1.5zM381.24 84.93h1.5v1.6h-1.5zM381.93 86.45h1.5v1.6h-1.5zM383.18 89.17h1.5v1.6h-1.5zM384.3 91.55h1.5v1.6h-1.5zM385.31 93.67h1.5v1.6h-1.5zM386.23 95.58h1.5v1.6h-1.5zM387.08 97.31h1.5v1.6h-1.5zM387.87 98.88h1.5v1.6h-1.5zM388.6 100.31h1.5v1.6h-1.5zM389.28 101.62h1.5v1.6h-1.5zM390.53 103.98h1.5v1.6h-1.5zM391.65 106.12h1.5v1.6h-1.5zM392.66 107.99h1.5v1.6h-1.5zM393.59 109.56h1.5v1.6h-1.5zM394.44 110.85h1.5v1.6h-1.5zM395.22 111.88h1.5v1.6h-1.5zM395.95 112.74h1.5v1.6h-1.5zM396.64 113.48h1.5v1.6h-1.5zM397.89 114.74h1.5v1.6h-1.5zM399.01 115.74h1.5v1.6h-1.5zM400.02 116.62h1.5v1.6h-1.5zM400.94 117.42h1.5v1.6h-1.5zM401.79 118.26h1.5v1.6h-1.5zM402.58 118.93h1.5v1.6h-1.5zM403.31 119.75h1.5v1.6h-1.5zM404 120.41h1.5v1.6h-1.5zM405.25 121.61h1.5v1.6h-1.5zM406.36 122.61h1.5v1.6h-1.5zM407.38 123.43h1.5v1.6h-1.5zM408.3 123.86h1.5v1.6h-1.5zM409.15 124.24h1.5v1.6h-1.5zM409.94 124.66h1.5v1.6h-1.5zM410.67 124.87h1.5v1.6h-1.5zM411.35 125.16h1.5v1.6h-1.5zM412.6 125.71h1.5v1.6h-1.5zM413.72 126.14h1.5v1.6h-1.5zM414.73 126.46h1.5v1.6h-1.5zM415.66 126.73h1.5v1.6h-1.5zM416.51 126.81h1.5v1.6h-1.5zM417.29 126.91h1.5v1.6h-1.5zM418.02 127.16h1.5v1.6h-1.5zM418.71 127.46h1.5v1.6h-1.5zM419.96 127.97h1.5v1.6h-1.5zM421.08 128.29h1.5v1.6h-1.5zM422.09 128.65h1.5v1.6h-1.5zM423.01 128.81h1.5v1.6h-1.5zM423.86 129.15h1.5v1.6h-1.5zM424.65 129.13h1.5v1.6h-1.5zM425.38 129.43h1.5v1.6h-1.5zM426.07 129.36h1.5v1.6h-1.5zM427.32 129.52h1.5v1.6h-1.5zM428.43 129.44h1.5v1.6h-1.5zM429.45 129.53h1.5v1.6h-1.5zM430.37 129.63h1.5v1.6h-1.5zM431.22 129.65h1.5v1.6h-1.5zM432 129.97h1.5v1.6h-1.5zM432.74 129.89h1.5v1.6h-1.5zM433.42 130.31h1.5v1.6h-1.5zM434.67 130.35h1.5v1.6h-1.5zM435.79 130.93h1.5v1.6h-1.5zM436.8 130.69h1.5v1.6h-1.5zM437.73 131.02h1.5v1.6h-1.5zM438.57 130.64h1.5v1.6h-1.5zM439.36 130.68h1.5v1.6h-1.5zM440.09 130.54h1.5v1.6h-1.5zM440.78 130.81h1.5v1.6h-1.5zM442.03 130.89h1.5v1.6h-1.5zM443.15 131.31h1.5v1.6h-1.5zM444.16 131.64h1.5v1.6h-1.5zM445.08 131.7h1.5v1.6h-1.5zM445.93 131.55h1.5v1.6h-1.5zM446.72 131.39h1.5v1.6h-1.5zM447.45 131.24h1.5v1.6h-1.5zM448.13 130.67h1.5v1.6h-1.5zM449.38 130.92h1.5v1.6h-1.5zM450.5 131.23h1.5v1.6h-1.5zM451.51 131.42h1.5v1.6h-1.5zM452.44 131.74h1.5v1.6h-1.5zM453.29 132.46h1.5v1.6h-1.5zM454.07 132.38h1.5v1.6h-1.5zM454.81 132.24h1.5v1.6h-1.5zM455.49 132.42h1.5v1.6h-1.5zM456.74 132.35h1.5v1.6h-1.5zM457.86 132.04h1.5v1.6h-1.5zM458.87 132.3h1.5v1.6h-1.5zM459.79 132.74h1.5v1.6h-1.5zM460.64 132.24h1.5v1.6h-1.5zM461.43 132.25h1.5v1.6h-1.5zM462.16 132.21h1.5v1.6h-1.5zM462.85 132.29h1.5v1.6h-1.5zM464.1 132.48h1.5v1.6h-1.5zM465.22 132.8h1.5v1.6h-1.5zM466.23 132.66h1.5v1.6h-1.5zM467.15 133.1h1.5v1.6h-1.5zM468 132.87h1.5v1.6h-1.5zM468.79 133.14h1.5v1.6h-1.5zM469.52 133.69h1.5v1.6h-1.5zM470.2 133.93h1.5v1.6h-1.5zM471.45 134.23h1.5v1.6h-1.5zM472.57 133.96h1.5v1.6h-1.5zM473.58 133.83h1.5v1.6h-1.5zM474.51 134.01h1.5v1.6h-1.5zM475.36 134.19h1.5v1.6h-1.5zM476.14 134.02h1.5v1.6h-1.5zM476.88 134.8h1.5v1.6h-1.5zM477.56 135.34h1.5v1.6h-1.5zM478.81 135.46h1.5v1.6h-1.5zM479.93 135.52h1.5v1.6h-1.5zM480.94 136.33h1.5v1.6h-1.5zM481.86 136h1.5v1.6h-1.5zM482.71 135.9h1.5v1.6h-1.5zM483.5 135.96h1.5v1.6h-1.5zM484.23 136.7h1.5v1.6h-1.5z" fill="#000"/>
<path d="M297.95 46.1h1.5v1.6h-1.5zM301.01 46.11h1.5v1.6h-1.5zM303.37 46.14h1.5v1.6h-1.5zM305.31 46.18h1.5v1.6h-1.5zM306.95 46.22h1.5v1.6h-1.5zM308.36 46.26h1.5v1.6h-1.5zM309.61 46.29h1.5v1.6h-1.5zM310.73 46.33h1.5v1.6h-1.5zM311.74 46.37h1.5v1.6h-1.5zM312.67 46.4h1.5v1.6h-1.5zM313.52 46.44h1.5v1.6h-1.5zM314.3 46.47h1.5v1.6h-1.5zM315.03 46.5h1.5v1.6h-1.5zM315.72 46.53h1.5v1.6h-1.5zM316.97 46.59h1.5v1.6h-1.5zM318.09 46.64h1.5v1.6h-1.5zM319.1 46.7h1.5v1.6h-1.5zM320.02 46.74h1.5v1.6h-1.5zM320.87 46.79h1.5v1.6h-1.5zM321.66 46.83h1.5v1.6h-1.5zM322.39 46.87h1.5v1.6h-1.5zM323.08 46.91h1.5v1.6h-1.5zM324.33 46.99h1.5v1.6h-1.5zM325.44 47.06h1.5v1.6h-1.5zM326.46 47.12h1.5v1.6h-1.5zM327.38 47.18h1.5v1.6h-1.5zM328.23 47.23h1.5v1.6h-1.5zM329.01 47.28h1.5v1.6h-1.5zM329.75 47.34h1.5v1.6h-1.5zM330.43 47.39h1.5v1.6h-1.5zM331.68 47.51h1.5v1.6h-1.5zM332.8 47.63h1.5v1.6h-1.5zM333.81 47.76h1.5v1.6h-1.5zM334.74 47.89h1.5v1.6h-1.5zM335.58 48.02h1.5v1.6h-1.5zM336.37 48.14h1.5v1.6h-1.5zM337.1 48.26h1.5v1.6h-1.5zM337.79 48.38h1.5v1.6h-1.5zM339.04 48.61h1.5v1.6h-1.5zM340.16 48.82h1.5v1.6h-1.5zM341.17 49.03h1.5v1.6h-1.5zM342.09 49.22h1.5v1.6h-1.5zM342.94 49.4h1.5v1.6h-1.5zM343.73 49.57h1.5v1.6h-1.5zM344.46 49.73h1.5v1.6h-1.5zM345.14 49.88h1.5v1.6h-1.5zM346.39 50.16h1.5v1.6h-1.5zM347.51 50.43h1.5v1.6h-1.5zM348.52 50.68h1.5v1.6h-1.5zM349.45 50.93h1.5v1.6h-1.5zM350.3 51.18h1.5v1.6h-1.5zM351.08 51.42h1.5v1.6h-1.5zM351.82 51.65h1.5v1.6h-1.5zM352.5 51.87h1.5v1.6h-1.5zM353.75 52.31h1.5v1.6h-1.5zM354.87 52.73h1.5v1.6h-1.5zM355.88 53.13h1.5v1.6h-1.5zM356.8 53.52h1.5v1.6h-1.5zM357.65 53.89h1.5v1.6h-1.5zM358.44 54.26h1.5v1.6h-1.5zM359.17 54.63h1.5v1.6h-1.5zM359.86 55h1.5v1.6h-1.5zM361.11 55.74h1.5v1.6h-1.5zM362.23 56.47h1.5v1.6h-1.5zM363.24 57.19h1.5v1.6h-1.5zM364.16 57.91h1.5v1.6h-1.5zM365.01 58.63h1.5v1.6h-1.5zM365.8 59.43h1.5v1.6h-1.5zM366.53 60.29h1.5v1.6h-1.5zM367.21 61.16h1.5v1.6h-1.5zM368.46 62.8h1.5v1.6h-1.5zM369.58 64.21h1.5v1.6h-1.5zM370.59 65.44h1.5v1.6h-1.5zM371.52 66.59h1.5v1.6h-1.5zM372.37 67.71h1.5v1.6h-1.5zM373.15 68.85h1.5v1.6h-1.5zM373.89 69.96h1.5v1.6h-1.5zM374.57 71.06h1.5v1.6h-1.5zM375.82 73.26h1.5v1.6h-1.5zM376.94 75.56h1.5v1.6h-1.5zM377.95 78.16h1.5v1.6h-1.5zM378.87 80.49h1.5v1.6h-1.5zM379.72 82.48h1.5v1.6h-1.5zM380.51 84.28h1.5v1.6h-1.5zM381.24 85.93h1.5v1.6h-1.5zM381.93 87.45h1.5v1.6h-1.5zM383.18 90.17h1.5v1.6h-1.5zM384.3 92.55h1.5v1.6h-1.5zM385.31 94.67h1.5v1.6h-1.5zM386.23 96.58h1.5v1.6h-1.5zM387.08 98.31h1.5v1.6h-1.5zM387.87 99.88h1.5v1.6h-1.5zM388.6 101.31h1.5v1.6h-1.5zM389.28 102.62h1.5v1.6h-1.5zM390.53 104.98h1.5v1.6h-1.5zM391.65 107.12h1.5v1.6h-1.5zM392.66 108.99h1.5v1.6h-1.5zM393.59 110.56h1.5v1.6h-1.5zM394.44 111.85h1.5v1.6h-1.5zM395.22 112.88h1.5v1.6h-1.5zM395.95 113.74h1.5v1.6h-1.5zM396.64 114.48h1.5v1.6h-1.5zM397.89 115.74h1.5v1.6h-1.5zM399.01 116.74h1.5v1.6h-1.5zM400.02 117.62h1.5v1.6h-1.5zM400.94 118.42h1.5v1.6h-1.5zM401.79 119.26h1.5v1.6h-1.5zM402.58 119.93h1.5v1.6h-1.5zM403.31 120.75h1.5v1.6h-1.5zM404 121.41h1.5v1.6h-1.5zM405.25 122.61h1.5v1.6h-1.5zM406.36 123.61h1.5v1.6h-1.5zM407.38 124.43h1.5v1.6h-1.5zM408.3 124.86h1.5v1.6h-1.5zM409.15 125.24h1.5v1.6h-1.5zM409.94 125.66h1.5v1.6h-1.5zM410.67 125.87h1.5v1.6h-1.5zM411.35 126.16h1.5v1.6h-1.5zM412.6 126.71h1.5v1.6h-1.5zM413.72 127.14h1.5v1.6h-1.5zM414.73 127.46h1.5v1.6h-1.5zM415.66 127.73h1.5v1.6h-1.5zM416.51 127.81h1.5v1.6h-1.5zM417.29 127.91h1.5v1.6h-1.5zM418.02 128.16h1.5v1.6h-1.5zM418.71 128.46h1.5v1.6h-1.5zM419.96 128.97h1.5v1.6h-1.5zM421.08 129.29h1.5v1.6h-1.5zM422.09 129.65h1.5v1.6h-1.5zM423.01 129.81h1.5v1.6h-1.5zM423.86 130.15h1.5v1.6h-1.5zM424.65 130.13h1.5v1.6h-1.5zM425.38 130.43h1.5v1.6h-1.5zM426.07 130.36h1.5v1.6h-1.5zM427.32 130.52h1.5v1.6h-1.5zM428.43 130.44h1.5v1.6h-1.5zM429.45 130.53h1.5v1.6h-1.5zM430.37 130.63h1.5v1.6h-1.5zM431.22 130.65h1.5v1.6h-1.5zM432 130.97h1.5v1.6h-1.5zM432.74 130.89h1.5v1.6h-1.5zM433.42 131.31h1.5v1.6h-1.5zM434.67 131.35h1.5v1.6h-1.5zM435.79 131.93h1.5v1.6h-1.5zM436.8 131.69h1.5v1.6h-1.5zM437.73 132.02h1.5v1.6h-1.5zM438.57 131.64h1.5v1.6h-1.5zM439.36 131.68h1.5v1.6h-1.5zM440.09 131.54h1.5v1.6h-1.5zM440.78 131.81h1.5v1.6h-1.5zM442.03 131.89h1.5v1.6h-1.5zM443.15 132.31h1.5v1.6h-1.5zM444.16 132.64h1.5v1.6h-1.5zM445.08 132.7h1.5v1.6h-1.5zM445.93 132.55h1.5v1.6h-1.5zM446.72 132.38h1.5v1.6h-1.5zM447.45 132.23h1.5v1.6h-1.5zM448.13 131.66h1.5v1.6h-1.5zM449.38 131.9h1.5v1.6h-1.5zM450.5 132.21h1.5v1.6h-1.5zM451.51 132.38h1.5v1.6h-1.5zM452.44 132.7h1.5v1.6h-1.5zM453.29 133.42h1.5v1.6h-1.5zM454.07 133.33h1.5v1.6h-1.5zM454.81 133.19h1.5v1.6h-1.5zM455.49 133.36h1.5v1.6h-1.5zM456.74 133.29h1.5v1.6h-1.5zM457.86 132.97h1.5v1.6h-1.5zM458.87 133.24h1.5v1.6h-1.5zM459.79 133.68h1.5v1.6h-1.5zM460.64 133.19h1.5v1.6h-1.5zM461.43 133.2h1.5v1.6h-1.5zM462.16 133.17h1.5v1.6h-1.5zM462.85 133.26h1.5v1.6h-1.5zM464.1 133.47h1.5v1.6h-1.5zM465.22 133.83h1.5v1.6h-1.5zM466.23 133.76h1.5v1.6h-1.5zM467.15 134.3h1.5v1.6h-1.5zM468 134.18h1.5v1.6h-1.5zM468.79 134.57h1.5v1.6h-1.5zM469.52 135.24h1.5v1.6h-1.5zM470.2 135.6h1.5v1.6h-1.5zM471.45 136.12h1.5v1.6h-1.5zM472.57 136.05h1.5v1.6h-1.5zM473.58 136.09h1.5v1.6h-1.5zM474.51 136.42h1.5v1.6h-1.5zM475.36 136.72h1.5v1.6h-1.5zM476.14 136.64h1.5v1.6h-1.5zM476.88 137.49h1.5v1.6h-1.5zM477.56 138.08h1.5v1.6h-1.5zM478.81 138.27h1.5v1.6h-1.5zM479.93 138.34h1.5v1.6h-1.5zM480.94 139.15h1.5v1.6h-1.5zM481.86 138.8h1.5v1.6h-1.5zM482.71 138.67h1.5v1.6h-1.5zM483.5 138.69h1.5v1.6h-1.5zM484.23 139.4h1.5v1.6h-1.5z" fill="#000"/>
<path d="M297.95 60.1h1.5v1.6h-1.5zM301.01 60.11h1.5v1.6h-1.5zM303.37 60.14h1.5v1.6h-1.5zM305.31 60.17h1.5v1.6h-1.5zM306.95 60.2h1.5v1.6h-1.5zM308.36 60.24h1.5v1.6h-1.5zM309.61 60.27h1.5v1.6h-1.5zM310.73 60.3h1.5v1.6h-1.5zM311.74 60.33h1.5v1.6h-1.5zM312.67 60.36h1.5v1.6h-1.5zM313.52 60.39h1.5v1.6h-1.5zM314.3 60.42h1.5v1.6h-1.5zM315.03 60.45h1.5v1.6h-1.5zM315.72 60.47h1.5v1.6h-1.5zM316.97 60.52h1.5v1.6h-1.5zM318.09 60.57h1.5v1.6h-1.5zM319.1 60.61h1.5v1.6h-1.5zM320.02 60.65h1.5v1.6h-1.5zM320.87 60.69h1.5v1.6h-1.5zM321.66 60.72h1.5v1.6h-1.5zM322.39 60.76h1.5v1.6h-1.5zM323.08 60.79h1.5v1.6h-1.5zM324.33 60.85h1.5v1.6h-1.5zM325.44 60.91h1.5v1.6h-1.5zM326.46 60.96h1.5v1.6h-1.5zM327.38 61h1.5v1.6h-1.5zM328.23 61.05h1.5v1.6h-1.5zM329.01 61.09h1.5v1.6h-1.5zM329.75 61.13h1.5v1.6h-1.5zM330.43 61.16h1.5v1.6h-1.5zM331.68 61.24h1.5v1.6h-1.5zM332.8 61.31h1.5v1.6h-1.5zM333.81 61.39h1.5v1.6h-1.5zM334.74 61.46h1.5v1.6h-1.5zM335.58 61.53h1.5v1.6h-1.5zM336.37 61.6h1.5v1.6h-1.5zM337.1 61.67h1.5v1.6h-1.5zM337.79 61.74h1.5v1.6h-1.5zM339.04 61.87h1.5v1.6h-1.5zM340.16 62h1.5v1.6h-1.5zM341.17 62.13h1.5v1.6h-1.5zM342.09 62.25h1.5v1.6h-1.5zM342.94 62.37h1.5v1.6h-1.5zM343.73 62.48h1.5v1.6h-1.5zM344.46 62.6h1.5v1.6h-1.5zM345.14 62.71h1.5v1.6h-1.5zM346.39 62.93h1.5v1.6h-1.5zM347.51 63.14h1.5v1.6h-1.5zM348.52 63.34h1.5v1.6h-1.5zM349.45 63.58h1.5v1.6h-1.5zM350.3 63.88h1.5v1.6h-1.5zM351.08 64.21h1.5v1.6h-1.5zM351.82 64.56h1.5v1.6h-1.5zM352.5 64.91h1.5v1.6h-1.5zM353.75 65.6h1.5v1.6h-1.5zM354.87 66.26h1.5v1.6h-1.5zM355.88 66.87h1.5v1.6h-1.5zM356.8 67.42h1.5v1.6h-1.5zM357.65 67.92h1.5v1.6h-1.5zM358.44 68.38h1.5v1.6h-1.5zM359.17 68.83h1.5v1.6h-1.5zM359.86 69.26h1.5v1.6h-1.5zM361.11 70.08h1.5v1.6h-1.5zM362.23 70.86h1.5v1.6h-1.5zM363.24 71.6h1.5v1.6h-1.5zM364.16 72.32h1.5v1.6h-1.5zM365.01 73.02h1.5v1.6h-1.5zM365.8 73.72h1.5v1.6h-1.5zM366.53 74.43h1.5v1.6h-1.5zM367.21 75.13h1.5v1.6h-1.5zM368.46 76.45h1.5v1.6h-1.5zM369.58 77.68h1.5v1.6h-1.5zM370.59 78.78h1.5v1.6h-1.5zM371.52 79.76h1.5v1.6h-1.5zM372.37 80.69h1.5v1.6h-1.5zM373.15 81.59h1.5v1.6h-1.5zM373.89 82.5h1.5v1.6h-1.5zM374.57 83.44h1.5v1.6h-1.5zM375.82 85.5h1.5v1.6h-1.5zM376.94 87.72h1.5v1.6h-1.5zM377.95 89.86h1.5v1.6h-1.5zM378.87 91.82h1.5v1.6h-1.5zM379.72 93.73h1.5v1.6h-1.5zM380.51 95.57h1.5v1.6h-1.5zM381.24 97.31h1.5v1.6h-1.5zM381.93 98.96h1.5v1.6h-1.5zM383.18 101.92h1.5v1.6h-1.5zM384.3 104.44h1.5v1.6h-1.5zM385.31 106.6h1.5v1.6h-1.5zM386.23 108.57h1.5v1.6h-1.5zM387.08 110.36h1.5v1.6h-1.5zM387.87 111.98h1.5v1.6h-1.5zM388.6 113.44h1.5v1.6h-1.5zM389.28 114.74h1.5v1.6h-1.5zM390.53 116.9h1.5v1.6h-1.5zM391.65 118.58h1.5v1.6h-1.5zM392.66 119.96h1.5v1.6h-1.5zM393.59 121.14h1.5v1.6h-1.5zM394.44 122.17h1.5v1.6h-1.5zM395.22 123.07h1.5v1.6h-1.5zM395.95 123.88h1.5v1.6h-1.5zM396.64 124.6h1.5v1.6h-1.5zM397.89 125.83h1.5v1.6h-1.5zM399.01 126.94h1.5v1.6h-1.5zM400.02 127.82h1.5v1.6h-1.5zM400.94 128.53h1.5v1.6h-1.5zM401.79 129.05h1.5v1.6h-1.5zM402.58 129.55h1.5v1.6h-1.5zM403.31 129.9h1.5v1.6h-1.5zM404 130.3h1.5v1.6h-1.5zM405.25 130.94h1.5v1.6h-1.5zM406.36 131.39h1.5v1.6h-1.5zM407.38 131.86h1.5v1.6h-1.5zM408.3 132.16h1.5v1.6h-1.5zM409.15 132.52h1.5v1.6h-1.5zM409.94 132.79h1.5v1.6h-1.5zM410.67 133.11h1.5v1.6h-1.5zM411.35 133.47h1.5v1.6h-1.5zM412.6 134.18h1.5v1.6h-1.5zM413.72 134.41h1.5v1.6h-1.5zM414.73 134.78h1.5v1.6h-1.5zM415.66 135.13h1.5v1.6h-1.5zM416.51 135.32h1.5v1.6h-1.5zM417.29 135.32h1.5v1.6h-1.5zM418.02 135.51h1.5v1.6h-1.5zM418.71 135.75h1.5v1.6h-1.5zM419.96 135.98h1.5v1.6h-1.5zM421.08 136.14h1.5v1.6h-1.5zM422.09 136.45h1.5v1.6h-1.5zM423.01 136.5h1.5v1.6h-1.5zM423.86 136.43h1.5v1.6h-1.5zM424.65 136.21h1.5v1.6h-1.5zM425.38 136.21h1.5v1.6h-1.5zM426.07 136.41h1.5v1.6h-1.5zM427.32 136.61h1.5v1.6h-1.5zM428.43 137.06h1.5v1.6h-1.5zM429.45 137.72h1.5v1.6h-1.5zM430.37 137.88h1.5v1.6h-1.5zM431.22 137.79h1.5v1.6h-1.5zM432 138.06h1.5v1.6h-1.5zM432.74 137.81h1.5v1.6h-1.5zM433.42 137.67h1.5v1.6h-1.5zM434.67 137.78h1.5v1.6h-1.5zM435.79 137.98h1.5v1.6h-1.5zM436.8 138.19h1.5v1.6h-1.5zM437.73 138.28h1.5v1.6h-1.5zM438.57 138.55h1.5v1.6h-1.5zM439.36 138.47h1.5v1.6h-1.5zM440.09 138.38h1.5v1.6h-1.5zM440.78 138.35h1.5v1.6h-1.5zM442.03 138.57h1.5v1.6h-1.5zM443.15 138.45h1.5v1.6h-1.5zM444.16 138.72h1.5v1.6h-1.5zM445.08 138.7h1.5v1.6h-1.5zM445.93 138.53h1.5v1.6h-1.5zM446.72 138.53h1.5v1.6h-1.5zM447.45 138.8h1.5v1.6h-1.5zM448.13 138.75h1.5v1.6h-1.5zM449.38 139.37h1.5v1.6h-1.5zM450.5 139.64h1.5v1.6h-1.5zM451.51 139.05h1.5v1.6h-1.5zM452.44 138.76h1.5v1.6h-1.5zM453.29 139.23h1.5v1.6h-1.5zM454.07 138.8h1.5v1.6h-1.5zM454.81 138.68h1.5v1.6h-1.5zM455.49 139.23h1.5v1.6h-1.5zM456.74 139.72h1.5v1.6h-1.5zM457.86 139.62h1.5v1.6h-1.5zM458.87 139.83h1.5v1.6h-1.5zM459.79 140.09h1.5v1.6h-1.5zM460.64 140.69h1.5v1.6h-1.5zM461.43 140.6h1.5v1.6h-1.5zM462.16 140.07h1.5v1.6h-1.5zM462.85 140.12h1.5v1.6h-1.5zM464.1 140.1h1.5v1.6h-1.5zM465.22 139.75h1.5v1.6h-1.5zM466.23 139.77h1.5v1.6h-1.5zM467.15 140.11h1.5v1.6h-1.5zM468 139.23h1.5v1.6h-1.5zM468.79 139.61h1.5v1.6h-1.5zM469.52 139.92h1.5v1.6h-1.5zM470.2 139.74h1.5v1.6h-1.5zM471.45 139.71h1.5v1.6h-1.5zM472.57 140.56h1.5v1.6h-1.5zM473.58 139.94h1.5v1.6h-1.5zM474.51 139.86h1.5v1.6h-1.5zM475.36 140.02h1.5v1.6h-1.5zM476.14 140.24h1.5v1.6h-1.5zM476.88 140.19h1.5v1.6h-1.5zM477.56 140.55h1.5v1.6h-1.5zM478.81 141.1h1.5v1.6h-1.5zM479.93 141.74h1.5v1.6h-1.5zM480.94 142.17h1.5v1.6h-1.5zM481.86 142.57h1.5v1.6h-1.5zM482.71 142.69h1.5v1.6h-1.5zM483.5 142.74h1.5v1.6h-1.5z" fill="#000"/>
<line x1="39.7" y1="197.35" x2="39.7" y2="341.05" stroke="#000" stroke-width="1.5"/>
<line x1="37" y1="340.3" x2="39.7" y2="340.3" stroke="#000" stroke-width="1.5"/>
<text x="31.7" y="343.4" text-anchor="end" font-size="8.5" >0</text>
<line x1="37" y1="316.6" x2="39.7" y2="316.6" stroke="#000" stroke-width="1.5"/>
<text x="31.7" y="319.7" text-anchor="end" font-size="8.5" >2</text>
<line x1="37" y1="292.9" x2="39.7" y2="292.9" stroke="#000" stroke-width="1.5"/>
<text x="31.7" y="296" text-anchor="end" font-size="8.5" >4</text>
<line x1="37" y1="269.2" x2="39.7" y2="269.2" stroke="#000" stroke-width="1.5"/>
<text x="31.7" y="272.3" text-anchor="end" font-size="8.5" >6</text>
<line x1="37" y1="245.5" x2="39.7" y2="245.5" stroke="#000" stroke-width="1.5"/>
<text x="31.7" y="248.6" text-anchor="end" font-size="8.5" >8</text>
<line x1="37" y1="221.8" x2="39.7" y2="221.8" stroke="#000" stroke-width="1.5"/>
<text x="31.7" y="224.9" text-anchor="end" font-size="8.5" >10</text>
<line x1="37" y1="198.1" x2="39.7" y2="198.1" stroke="#000" stroke-width="1.5"/>
<text x="31.7" y="201.2" text-anchor="end" font-size="8.5" >12</text>
<line x1="38.95" y1="340.3" x2="227.05" y2="340.3" stroke="#000" stroke-width="1.5"/>
<line x1="39.7" y1="340.3" x2="39.7" y2="342.7" stroke="#000" stroke-width="1.5"/>
<line x1="54.89" y1="340.3" x2="54.89" y2="342.7" stroke="#000" stroke-width="1.5"/>
<line x1="63.77" y1="340.3" x2="63.77" y2="342.7" stroke="#000" stroke-width="1.5"/>
<line x1="70.07" y1="340.3" x2="70.07" y2="342.7" stroke="#000" stroke-width="1.5"/>
<line x1="74.96" y1="340.3" x2="74.96" y2="342.7" stroke="#000" stroke-width="1.5"/>
<line x1="78.95" y1="340.3" x2="78.95" y2="342.7" stroke="#000" stroke-width="1.5"/>
<line x1="82.33" y1="340.3" x2="82.33" y2="342.7" stroke="#000" stroke-width="1.5"/>
<line x1="85.26" y1="340.3" x2="85.26" y2="342.7" stroke="#000" stroke-width="1.5"/>
<line x1="87.84" y1="340.3" x2="87.84" y2="342.7" stroke="#000" stroke-width="1.5"/>
<line x1="90.15" y1="340.3" x2="90.15" y2="342.7" stroke="#000" stroke-width="1.5"/>
<line x1="105.33" y1="340.3" x2="105.33" y2="342.7" stroke="#000" stroke-width="1.5"/>
<line x1="114.22" y1="340.3" x2="114.22" y2="342.7" stroke="#000" stroke-width="1.5"/>
<line x1="120.52" y1="340.3" x2="120.52" y2="342.7" stroke="#000" stroke-width="1.5"/>
<line x1="125.41" y1="340.3" x2="125.41" y2="342.7" stroke="#000" stroke-width="1.5"/>
<line x1="129.4" y1="340.3" x2="129.4" y2="342.7" stroke="#000" stroke-width="1.5"/>
<line x1="132.78" y1="340.3" x2="132.78" y2="342.7" stroke="#000" stroke-width="1.5"/>
<line x1="135.7" y1="340.3" x2="135.7" y2="342.7" stroke="#000" stroke-width="1.5"/>
<line x1="138.28" y1="340.3" x2="138.28" y2="342.7" stroke="#000" stroke-width="1.5"/>
<line x1="140.59" y1="340.3" x2="140.59" y2="342.7" stroke="#000" stroke-width="1.5"/>
<line x1="155.78" y1="340.3" x2="155.78" y2="342.7" stroke="#000" stroke-width="1.5"/>
<line x1="164.66" y1="340.3" x2="164.66" y2="342.7" stroke="#000" stroke-width="1.5"/>
<line x1="170.96" y1="340.3" x2="170.96" y2="342.7" stroke="#000" stroke-width="1.5"/>
<line x1="175.85" y1="340.3" x2="175.85" y2="342.7" stroke="#000" stroke-width="1.5"/>
<line x1="179.85" y1="340.3" x2="179.85" y2="342.7" stroke="#000" stroke-width="1.5"/>
<line x1="183.23" y1="340.3" x2="183.23" y2="342.7" stroke="#000" stroke-width="1.5"/>
<line x1="186.15" y1="340.3" x2="186.15" y2="342.7" stroke="#000" stroke-width="1.5"/>
<line x1="188.73" y1="340.3" x2="188.73" y2="342.7" stroke="#000" stroke-width="1.5"/>
<line x1="191.04" y1="340.3" x2="191.04" y2="342.7" stroke="#000" stroke-width="1.5"/>
<line x1="206.23" y1="340.3" x2="206.23" y2="342.7" stroke="#000" stroke-width="1.5"/>
<line x1="215.11" y1="340.3" x2="215.11" y2="342.7" stroke="#000" stroke-width="1.5"/>
<line x1="221.41" y1="340.3" x2="221.41" y2="342.7" stroke="#000" stroke-width="1.5"/>
<line x1="226.3" y1="340.3" x2="226.3" y2="342.7" stroke="#000" stroke-width="1.5"/>
<text x="39.7" y="353.5" text-anchor="middle" font-size="8.5" >1</text>
<text x="90.15" y="353.5" text-anchor="middle" font-size="8.5" >10</text>
<text x="140.59" y="353.5" text-anchor="middle" font-size="8.5" >100</text>
<text x="191.04" y="353.5" text-anchor="middle" font-size="8.5" >1000</text>
<text x="124.3" y="363.9" text-anchor="middle" font-size="8.65" >particle diameter (nm)</text>
<text x="13.3" y="263.5" text-anchor="middle" font-size="8.65" transform="rotate(-90 13.3 263.5)">volume (%)</text>
<text x="49.2" y="209.8" text-anchor="start" font-size="10.0" >C</text>
<text x="116" y="209.5" text-anchor="start" font-size="8.6" >MES buffer</text>
<path d="M39.7,340.3 L39.95,340.3 L40.2,340.3 L40.45,340.3 L40.7,340.3 L40.95,340.3 L41.2,340.3 L41.45,340.3 L41.7,340.3 L41.95,340.3 L42.2,340.3 L42.45,340.3 L42.7,340.3 L42.95,340.3 L43.2,340.3 L43.45,340.3 L43.7,340.3 L43.95,340.3 L44.2,340.3 L44.45,340.3 L44.7,340.3 L44.95,340.3 L45.2,340.3 L45.45,340.3 L45.7,340.3 L45.95,340.3 L46.2,340.3 L46.45,340.3 L46.7,340.3 L46.95,340.3 L47.2,340.3 L47.45,340.3 L47.7,340.3 L47.95,340.3 L48.2,340.3 L48.45,340.3 L48.7,340.3 L48.95,340.3 L49.2,340.3 L49.45,340.3 L49.7,340.3 L49.95,340.3 L50.2,340.3 L50.45,340.3 L50.7,340.3 L50.95,340.3 L51.2,340.3 L51.45,340.3 L51.7,340.3 L51.95,340.3 L52.2,340.3 L52.45,340.3 L52.7,340.3 L52.95,340.3 L53.2,340.3 L53.45,340.3 L53.7,340.3 L53.95,340.3 L54.2,340.3 L54.45,340.3 L54.7,340.3 L54.95,340.3 L55.2,340.3 L55.45,340.3 L55.7,340.3 L55.95,340.3 L56.2,340.3 L56.45,340.3 L56.7,340.3 L56.95,340.3 L57.2,340.3 L57.45,340.3 L57.7,340.3 L57.95,340.3 L58.2,340.3 L58.45,340.3 L58.7,340.3 L58.95,340.3 L59.2,340.3 L59.45,340.3 L59.7,340.3 L59.95,340.3 L60.2,340.3 L60.45,340.3 L60.7,340.3 L60.95,340.3 L61.2,340.3 L61.45,340.3 L61.7,340.3 L61.95,340.3 L62.2,340.3 L62.45,340.3 L62.7,340.3 L62.95,340.3 L63.2,340.3 L63.45,340.3 L63.7,340.3 L63.95,340.3 L64.2,340.3 L64.45,340.3 L64.7,340.3 L64.95,340.3 L65.2,340.3 L65.45,340.3 L65.7,340.3 L65.95,340.3 L66.2,340.3 L66.45,340.3 L66.7,340.3 L66.95,340.3 L67.2,340.3 L67.45,340.3 L67.7,340.3 L67.95,340.3 L68.2,340.3 L68.45,340.3 L68.7,340.3 L68.95,340.3 L69.2,340.3 L69.45,340.3 L69.7,340.3 L69.95,340.3 L70.2,340.3 L70.45,340.3 L70.7,340.3 L70.95,340.3 L71.2,340.3 L71.45,340.3 L71.7,340.3 L71.95,340.01 L72.2,338.3 L72.45,335.26 L72.7,331.1 L72.95,326.05 L73.2,320.32 L73.45,314.13 L73.7,307.69 L73.95,301.23 L74.2,294.96 L74.45,289.1 L74.7,283.2 L74.95,276.37 L75.2,269.26 L75.45,262.6 L75.7,257.1 L75.95,253.41 L76.2,250.5 L76.45,247.8 L76.7,245.42 L76.95,243.51 L77.2,242.2 L77.45,241.62 L77.7,241.95 L77.95,243.19 L78.2,245.03 L78.45,247.12 L78.7,249.16 L78.95,250.79 L79.2,251.71 L79.45,251.63 L79.7,250.68 L79.95,249.01 L80.2,246.77 L80.45,244.11 L80.7,241.18 L80.95,238.14 L81.2,235.12 L81.45,232.29 L81.7,229.78 L81.95,227.75 L82.2,226.35 L82.45,225.72 L82.7,225.81 L82.95,226.23 L83.2,226.98 L83.45,228.02 L83.7,229.35 L83.95,230.96 L84.2,232.83 L84.45,234.95 L84.7,237.31 L84.95,239.9 L85.2,242.7 L85.45,247.85 L85.7,256.42 L85.95,266.79 L86.2,277.35 L86.45,286.49 L86.7,293.82 L86.95,301.04 L87.2,307.99 L87.45,314.44 L87.7,320.18 L87.95,324.97 L88.2,328.69 L88.45,331.99 L88.7,334.87 L88.95,337.11 L89.2,338.5 L89.45,339.34 L89.7,339.98 L89.95,340.29 L90.2,340.3 L90.45,340.3 L90.7,340.3 L90.95,340.3 L91.2,340.3 L91.45,340.3 L91.7,340.3 L91.95,340.3 L92.2,340.3 L92.45,340.3 L92.7,340.3 L92.95,340.3 L93.2,340.3 L93.45,340.3 L93.7,340.3 L93.95,340.3 L94.2,340.3 L94.45,340.3 L94.7,340.3 L94.95,340.3 L95.2,340.3 L95.45,340.3 L95.7,340.3 L95.95,340.3 L96.2,340.3 L96.45,340.3 L96.7,340.3 L96.95,340.3 L97.2,340.3 L97.45,340.3 L97.7,340.3 L97.95,340.3 L98.2,340.3 L98.45,340.3 L98.7,340.3 L98.95,340.3 L99.2,340.3 L99.45,340.3 L99.7,340.3 L99.95,340.3 L100.2,340.3 L100.45,340.3 L100.7,340.3 L100.95,340.3 L101.2,340.3 L101.45,340.3 L101.7,340.3 L101.95,340.3 L102.2,340.3 L102.45,340.3 L102.7,340.3 L102.95,340.29 L103.2,340.26 L103.45,340.21 L103.7,340.15 L103.95,340.08 L104.2,339.99 L104.45,339.89 L104.7,339.79 L104.95,339.68 L105.2,339.56 L105.45,339.44 L105.7,339.32 L105.95,339.2 L106.2,339.09 L106.45,338.97 L106.7,338.87 L106.95,338.77 L107.2,338.68 L107.45,338.6 L107.7,338.54 L107.95,338.49 L108.2,338.45 L108.45,338.4 L108.7,338.36 L108.95,338.32 L109.2,338.28 L109.45,338.24 L109.7,338.2 L109.95,338.16 L110.2,338.12 L110.45,338.09 L110.7,338.06 L110.95,338.03 L111.2,338 L111.45,337.98 L111.7,337.95 L111.95,337.94 L112.2,337.92 L112.45,337.91 L112.7,337.9 L112.95,337.9 L113.2,337.9 L113.45,337.92 L113.7,337.95 L113.95,337.99 L114.2,338.04 L114.45,338.1 L114.7,338.17 L114.95,338.25 L115.2,338.33 L115.45,338.42 L115.7,338.51 L115.95,338.6 L116.2,338.7 L116.45,338.8 L116.7,338.9 L116.95,339 L117.2,339.1 L117.45,339.2 L117.7,339.3 L117.95,339.39 L118.2,339.47 L118.45,339.55 L118.7,339.62 L118.95,339.69 L119.2,339.75 L119.45,339.79 L119.7,339.83 L119.95,339.87 L120.2,339.91 L120.45,339.95 L120.7,339.99 L120.95,340.03 L121.2,340.06 L121.45,340.1 L121.7,340.13 L121.95,340.16 L122.2,340.19 L122.45,340.22 L122.7,340.24 L122.95,340.26 L123.2,340.28 L123.45,340.29 L123.7,340.3 L123.95,340.3 L124.2,340.3 L124.45,340.29 L124.7,340.28 L124.95,340.26 L125.2,340.23 L125.45,340.2 L125.7,340.17 L125.95,340.13 L126.2,340.1 L126.45,340.06 L126.7,340.02 L126.95,339.97 L127.2,339.93 L127.45,339.89 L127.7,339.85 L127.95,339.81 L128.2,339.77 L128.45,339.73 L128.7,339.7 L128.95,339.67 L129.2,339.65 L129.45,339.63 L129.7,339.61 L129.95,339.6 L130.2,339.6 L130.45,339.59 L130.7,339.59 L130.95,339.58 L131.2,339.58 L131.45,339.57 L131.7,339.57 L131.95,339.57 L132.2,339.56 L132.45,339.56 L132.7,339.55 L132.95,339.55 L133.2,339.55 L133.45,339.54 L133.7,339.54 L133.95,339.54 L134.2,339.53 L134.45,339.53 L134.7,339.53 L134.95,339.53 L135.2,339.52 L135.45,339.52 L135.7,339.52 L135.95,339.52 L136.2,339.51 L136.45,339.51 L136.7,339.51 L136.95,339.51 L137.2,339.51 L137.45,339.51 L137.7,339.51 L137.95,339.5 L138.2,339.5 L138.45,339.5 L138.7,339.5 L138.95,339.5 L139.2,339.5 L139.45,339.5 L139.7,339.5 L139.95,339.5 L140.2,339.5 L140.45,339.51 L140.7,339.52 L140.95,339.53 L141.2,339.55 L141.45,339.57 L141.7,339.59 L141.95,339.62 L142.2,339.65 L142.45,339.68 L142.7,339.71 L142.95,339.75 L143.2,339.78 L143.45,339.82 L143.7,339.86 L143.95,339.89 L144.2,339.93 L144.45,339.97 L144.7,340 L144.95,340.04 L145.2,340.07 L145.45,340.11 L145.7,340.14 L145.95,340.17 L146.2,340.2 L146.45,340.22 L146.7,340.24 L146.95,340.26 L147.2,340.28 L147.45,340.29 L147.7,340.3 L147.95,340.3 L148.2,340.3 L148.45,340.3 L148.7,340.3 L148.95,340.3 L149.2,340.3 L149.45,340.3 L149.7,340.3 L149.95,340.3 L150.2,340.3 L150.45,340.3 L150.7,340.3 L150.95,340.3 L151.2,340.3 L151.45,340.3 L151.7,340.3 L151.95,340.3 L152.2,340.3 L152.45,340.3 L152.7,340.3 L152.95,340.3 L153.2,340.3 L153.45,340.3 L153.7,340.3 L153.95,340.3 L154.2,340.3 L154.45,340.3 L154.7,340.3 L154.95,340.3 L155.2,340.3 L155.45,340.3 L155.7,340.3 L155.95,340.3 L156.2,340.3 L156.45,340.3 L156.7,340.3 L156.95,340.3 L157.2,340.3 L157.45,340.3 L157.7,340.3 L157.95,340.3 L158.2,340.3 L158.45,340.3 L158.7,340.3 L158.95,340.3 L159.2,340.3 L159.45,340.3 L159.7,340.3 L159.95,340.3 L160.2,340.3 L160.45,340.3 L160.7,340.3 L160.95,340.3 L161.2,340.3 L161.45,340.3 L161.7,340.3 L161.95,340.3 L162.2,340.3 L162.45,340.3 L162.7,340.3 L162.95,340.3 L163.2,340.3 L163.45,340.3 L163.7,340.3 L163.95,340.3 L164.2,340.3 L164.45,340.3 L164.7,340.3 L164.95,340.3 L165.2,340.3 L165.45,340.3 L165.7,340.3 L165.95,340.3 L166.2,340.3 L166.45,340.3 L166.7,340.3 L166.95,340.3 L167.2,340.3 L167.45,340.3 L167.7,340.3 L167.95,340.3 L168.2,340.3 L168.45,340.3 L168.7,340.3 L168.95,340.3 L169.2,340.3 L169.45,340.3 L169.7,340.3 L169.95,340.3 L170.2,340.3 L170.45,340.3 L170.7,340.3 L170.95,340.3 L171.2,340.3 L171.45,340.3 L171.7,340.3 L171.95,340.3 L172.2,340.3 L172.45,340.3 L172.7,340.3 L172.95,340.3 L173.2,340.3 L173.45,340.3 L173.7,340.3 L173.95,340.3 L174.2,340.3 L174.45,340.3 L174.7,340.3 L174.95,340.3 L175.2,340.3 L175.45,340.3 L175.7,340.3 L175.95,340.3 L176.2,340.3 L176.45,340.3 L176.7,340.3 L176.95,340.3 L177.2,340.3 L177.45,340.3 L177.7,340.3 L177.95,340.3 L178.2,340.3 L178.45,340.3 L178.7,340.3 L178.95,340.3 L179.2,340.3 L179.45,340.3 L179.7,340.3 L179.95,340.3 L180.2,340.3 L180.45,340.3 L180.7,340.3 L180.95,340.3 L181.2,340.3 L181.45,340.3 L181.7,340.3 L181.95,340.3 L182.2,340.3 L182.45,340.3 L182.7,340.3 L182.95,340.3 L183.2,340.3 L183.45,340.3 L183.7,340.3 L183.95,340.3 L184.2,340.3 L184.45,340.3 L184.7,340.3 L184.95,340.3 L185.2,340.3 L185.45,340.3 L185.7,340.3 L185.95,340.3 L186.2,340.3 L186.45,340.3 L186.7,340.3 L186.95,340.3 L187.2,340.3 L187.45,340.3 L187.7,340.3 L187.95,340.3 L188.2,340.3 L188.45,340.3 L188.7,340.3 L188.95,340.3 L189.2,340.3 L189.45,340.3 L189.7,340.3 L189.95,340.3 L190.2,340.3 L190.45,340.3 L190.7,340.3 L190.95,340.3 L191.2,340.3 L191.45,340.3 L191.7,340.3 L191.95,340.3 L192.2,340.3 L192.45,340.3 L192.7,340.3 L192.95,340.3 L193.2,340.3 L193.45,340.3 L193.7,340.3 L193.95,340.3 L194.2,340.3 L194.45,340.3 L194.7,340.3 L194.95,340.3 L195.2,340.3 L195.45,340.3 L195.7,340.3 L195.95,340.3 L196.2,340.3 L196.45,340.3 L196.7,340.3 L196.95,340.3 L197.2,340.3 L197.45,340.3 L197.7,340.3 L197.95,340.3 L198.2,340.3 L198.45,340.3 L198.7,340.3 L198.95,340.3 L199.2,340.3 L199.45,340.3 L199.7,340.3 L199.95,340.3 L200.2,340.3 L200.45,340.3 L200.7,340.3 L200.95,340.3 L201.2,340.3 L201.45,340.3 L201.7,340.3 L201.95,340.3 L202.2,340.3 L202.45,340.3 L202.7,340.3 L202.95,340.3 L203.2,340.3 L203.45,340.3 L203.7,340.3 L203.95,340.3 L204.2,340.3 L204.45,340.3 L204.7,340.3 L204.95,340.3 L205.2,340.3 L205.45,340.3 L205.7,340.3 L205.95,340.3 L206.2,340.3 L206.45,340.3 L206.7,340.3 L206.95,340.3 L207.2,340.3 L207.45,340.3 L207.7,340.3 L207.95,340.3 L208.2,340.3 L208.45,340.3 L208.7,340.3 L208.95,340.3 L209.2,340.3 L209.45,340.3 L209.7,340.3 L209.95,340.3 L210.2,340.3 L210.45,340.3 L210.7,340.3 L210.95,340.3 L211.2,340.3 L211.45,340.3 L211.7,340.3 L211.95,340.3 L212.2,340.3 L212.45,340.3 L212.7,340.3 L212.95,340.3 L213.2,340.3 L213.45,340.3 L213.7,340.3 L213.95,340.3 L214.2,340.3 L214.45,340.3 L214.7,340.3 L214.95,340.3 L215.2,340.3 L215.45,340.3 L215.7,340.3 L215.95,340.3 L216.2,340.3 L216.45,340.3 L216.7,340.3 L216.95,340.3 L217.2,340.3 L217.45,340.3 L217.7,340.3 L217.95,340.3 L218.2,340.3 L218.45,340.3 L218.7,340.3 L218.95,340.3 L219.2,340.3 L219.45,340.3 L219.7,340.3 L219.95,340.3 L220.2,340.3 L220.45,340.3 L220.7,340.3 L220.95,340.3 L221.2,340.3 L221.45,340.3 L221.7,340.3 L221.95,340.3 L222.2,340.3 L222.45,340.3 L222.7,340.3 L222.95,340.3 L223.2,340.3 L223.45,340.3 L223.7,340.3 L223.95,340.3 L224.2,340.3 L224.45,340.3 L224.7,340.3 L224.95,340.3 L225.2,340.3 L225.45,340.3 L225.7,340.3 L225.95,340.3 L226.2,340.3" fill="none" stroke="#ff0000" stroke-width="1.5" stroke-linejoin="round" />
<path d="M39.7,340.3 L39.95,340.3 L40.2,340.3 L40.45,340.3 L40.7,340.3 L40.95,340.3 L41.2,340.3 L41.45,340.3 L41.7,340.3 L41.95,340.3 L42.2,340.3 L42.45,340.3 L42.7,340.3 L42.95,340.3 L43.2,340.3 L43.45,340.3 L43.7,340.3 L43.95,340.3 L44.2,340.3 L44.45,340.3 L44.7,340.3 L44.95,340.3 L45.2,340.3 L45.45,340.3 L45.7,340.3 L45.95,340.3 L46.2,340.3 L46.45,340.3 L46.7,340.3 L46.95,340.3 L47.2,340.3 L47.45,340.3 L47.7,340.3 L47.95,340.3 L48.2,340.3 L48.45,340.3 L48.7,340.3 L48.95,340.3 L49.2,340.3 L49.45,340.3 L49.7,340.3 L49.95,340.3 L50.2,340.3 L50.45,340.3 L50.7,340.3 L50.95,340.3 L51.2,340.3 L51.45,340.3 L51.7,340.3 L51.95,340.3 L52.2,340.3 L52.45,340.3 L52.7,340.3 L52.95,340.3 L53.2,340.3 L53.45,340.3 L53.7,340.3 L53.95,340.3 L54.2,340.3 L54.45,340.3 L54.7,340.3 L54.95,340.3 L55.2,340.3 L55.45,340.3 L55.7,340.3 L55.95,340.3 L56.2,340.3 L56.45,340.3 L56.7,340.3 L56.95,340.3 L57.2,340.3 L57.45,340.3 L57.7,340.3 L57.95,340.3 L58.2,340.3 L58.45,340.3 L58.7,340.3 L58.95,340.3 L59.2,340.3 L59.45,340.3 L59.7,340.3 L59.95,340.3 L60.2,340.3 L60.45,340.3 L60.7,340.3 L60.95,340.3 L61.2,340.3 L61.45,340.3 L61.7,340.3 L61.95,340.3 L62.2,340.3 L62.45,340.3 L62.7,340.3 L62.95,340.3 L63.2,340.3 L63.45,340.3 L63.7,340.3 L63.95,340.3 L64.2,340.3 L64.45,340.3 L64.7,340.3 L64.95,340.3 L65.2,340.3 L65.45,340.3 L65.7,340.3 L65.95,340.3 L66.2,340.3 L66.45,340.3 L66.7,340.3 L66.95,340.3 L67.2,340.3 L67.45,340.3 L67.7,340.3 L67.95,340.3 L68.2,340.3 L68.45,340.3 L68.7,340.3 L68.95,340.3 L69.2,340.3 L69.45,340.3 L69.7,340.3 L69.95,340.3 L70.2,340.3 L70.45,340.3 L70.7,340.3 L70.95,340.3 L71.2,340.3 L71.45,340.3 L71.7,340.3 L71.95,340.3 L72.2,340.3 L72.45,339.61 L72.7,335.71 L72.95,329.09 L73.2,320.56 L73.45,310.93 L73.7,301.02 L73.95,291.62 L74.2,283.57 L74.45,277.65 L74.7,273.62 L74.95,269.69 L75.2,265.89 L75.45,262.34 L75.7,259.14 L75.95,256.38 L76.2,254.18 L76.45,252.65 L76.7,251.87 L76.95,251.99 L77.2,253.04 L77.45,254.81 L77.7,257.06 L77.95,259.56 L78.2,262.06 L78.45,264.34 L78.7,266.23 L78.95,268.26 L79.2,270.44 L79.45,272.6 L79.7,274.6 L79.95,276.26 L80.2,277.45 L80.45,277.98 L80.7,277.89 L80.95,277.46 L81.2,276.76 L81.45,275.85 L81.7,274.78 L81.95,273.62 L82.2,272.41 L82.45,271.21 L82.7,270.07 L82.95,269.06 L83.2,268.23 L83.45,267.64 L83.7,267.33 L83.95,267.4 L84.2,267.97 L84.45,268.94 L84.7,270.21 L84.95,271.67 L85.2,273.21 L85.45,274.71 L85.7,276.2 L85.95,277.87 L86.2,279.69 L86.45,281.64 L86.7,283.7 L86.95,285.82 L87.2,288 L87.45,290.28 L87.7,292.71 L87.95,295.28 L88.2,297.93 L88.45,300.65 L88.7,303.39 L88.95,306.13 L89.2,308.84 L89.45,311.48 L89.7,314.12 L89.95,316.88 L90.2,319.65 L90.45,322.32 L90.7,324.78 L90.95,326.92 L91.2,328.76 L91.45,330.51 L91.7,332.13 L91.95,333.59 L92.2,334.83 L92.45,335.83 L92.7,336.64 L92.95,337.42 L93.2,338.16 L93.45,338.83 L93.7,339.4 L93.95,339.85 L94.2,340.16 L94.45,340.3 L94.7,340.3 L94.95,340.3 L95.2,340.3 L95.45,340.3 L95.7,340.3 L95.95,340.3 L96.2,340.3 L96.45,340.3 L96.7,340.3 L96.95,340.3 L97.2,340.3 L97.45,340.3 L97.7,340.3 L97.95,340.3 L98.2,340.3 L98.45,340.3 L98.7,340.3 L98.95,340.3 L99.2,340.3 L99.45,340.3 L99.7,340.3 L99.95,340.3 L100.2,340.3 L100.45,340.3 L100.7,340.3 L100.95,340.3 L101.2,340.3 L101.45,340.3 L101.7,340.27 L101.95,340.2 L102.2,340.09 L102.45,339.95 L102.7,339.77 L102.95,339.57 L103.2,339.34 L103.45,339.09 L103.7,338.82 L103.95,338.53 L104.2,338.24 L104.45,337.93 L104.7,337.62 L104.95,337.3 L105.2,336.98 L105.45,336.67 L105.7,336.36 L105.95,336.07 L106.2,335.78 L106.45,335.51 L106.7,335.26 L106.95,335.03 L107.2,334.83 L107.45,334.65 L107.7,334.51 L107.95,334.4 L108.2,334.33 L108.45,334.3 L108.7,334.3 L108.95,334.32 L109.2,334.35 L109.45,334.4 L109.7,334.45 L109.95,334.52 L110.2,334.6 L110.45,334.68 L110.7,334.77 L110.95,334.88 L111.2,334.98 L111.45,335.1 L111.7,335.22 L111.95,335.34 L112.2,335.47 L112.45,335.6 L112.7,335.74 L112.95,335.87 L113.2,336.01 L113.45,336.15 L113.7,336.28 L113.95,336.41 L114.2,336.55 L114.45,336.67 L114.7,336.8 L114.95,336.92 L115.2,337.03 L115.45,337.14 L115.7,337.24 L115.95,337.35 L116.2,337.45 L116.45,337.57 L116.7,337.68 L116.95,337.8 L117.2,337.92 L117.45,338.04 L117.7,338.15 L117.95,338.27 L118.2,338.38 L118.45,338.49 L118.7,338.6 L118.95,338.7 L119.2,338.8 L119.45,338.89 L119.7,338.97 L119.95,339.04 L120.2,339.1 L120.45,339.16 L120.7,339.2 L120.95,339.24 L121.2,339.27 L121.45,339.31 L121.7,339.34 L121.95,339.37 L122.2,339.41 L122.45,339.44 L122.7,339.46 L122.95,339.49 L123.2,339.51 L123.45,339.53 L123.7,339.55 L123.95,339.57 L124.2,339.58 L124.45,339.59 L124.7,339.6 L124.95,339.6 L125.2,339.59 L125.45,339.55 L125.7,339.49 L125.95,339.4 L126.2,339.3 L126.45,339.19 L126.7,339.07 L126.95,338.96 L127.2,338.84 L127.45,338.74 L127.7,338.65 L127.95,338.57 L128.2,338.52 L128.45,338.5 L128.7,338.5 L128.95,338.5 L129.2,338.5 L129.45,338.5 L129.7,338.5 L129.95,338.5 L130.2,338.5 L130.45,338.5 L130.7,338.5 L130.95,338.5 L131.2,338.5 L131.45,338.5 L131.7,338.5 L131.95,338.5 L132.2,338.5 L132.45,338.5 L132.7,338.5 L132.95,338.5 L133.2,338.5 L133.45,338.5 L133.7,338.5 L133.95,338.5 L134.2,338.5 L134.45,338.5 L134.7,338.5 L134.95,338.5 L135.2,338.5 L135.45,338.5 L135.7,338.5 L135.95,338.5 L136.2,338.5 L136.45,338.5 L136.7,338.5 L136.95,338.5 L137.2,338.5 L137.45,338.5 L137.7,338.53 L137.95,338.65 L138.2,338.84 L138.45,339.08 L138.7,339.35 L138.95,339.61 L139.2,339.87 L139.45,340.08 L139.7,340.23 L139.95,340.3 L140.2,340.3 L140.45,340.3 L140.7,340.3 L140.95,340.3 L141.2,340.3 L141.45,340.3 L141.7,340.3 L141.95,340.3 L142.2,340.3 L142.45,340.3 L142.7,340.3 L142.95,340.3 L143.2,340.3 L143.45,340.3 L143.7,340.3 L143.95,340.3 L144.2,340.3 L144.45,340.3 L144.7,340.3 L144.95,340.3 L145.2,340.3 L145.45,340.3 L145.7,340.3 L145.95,340.3 L146.2,340.3 L146.45,340.3 L146.7,340.3 L146.95,340.3 L147.2,340.3 L147.45,340.3 L147.7,340.3 L147.95,340.3 L148.2,340.3 L148.45,340.3 L148.7,340.3 L148.95,340.3 L149.2,340.3 L149.45,340.3 L149.7,340.3 L149.95,340.3 L150.2,340.3 L150.45,340.3 L150.7,340.3 L150.95,340.3 L151.2,340.3 L151.45,340.3 L151.7,340.3 L151.95,340.3 L152.2,340.3 L152.45,340.3 L152.7,340.3 L152.95,340.3 L153.2,340.3 L153.45,340.3 L153.7,340.3 L153.95,340.3 L154.2,340.3 L154.45,340.3 L154.7,340.3 L154.95,340.3 L155.2,340.3 L155.45,340.3 L155.7,340.3 L155.95,340.3 L156.2,340.3 L156.45,340.3 L156.7,340.3 L156.95,340.3 L157.2,340.3 L157.45,340.3 L157.7,340.3 L157.95,340.3 L158.2,340.3 L158.45,340.3 L158.7,340.3 L158.95,340.3 L159.2,340.3 L159.45,340.3 L159.7,340.3 L159.95,340.3 L160.2,340.3 L160.45,340.3 L160.7,340.3 L160.95,340.3 L161.2,340.3 L161.45,340.3 L161.7,340.3 L161.95,340.3 L162.2,340.3 L162.45,340.3 L162.7,340.3 L162.95,340.3 L163.2,340.3 L163.45,340.3 L163.7,340.3 L163.95,340.3 L164.2,340.3 L164.45,340.3 L164.7,340.3 L164.95,340.3 L165.2,340.3 L165.45,340.3 L165.7,340.3 L165.95,340.3 L166.2,340.3 L166.45,340.3 L166.7,340.3 L166.95,340.3 L167.2,340.3 L167.45,340.3 L167.7,340.3 L167.95,340.3 L168.2,340.3 L168.45,340.3 L168.7,340.3 L168.95,340.3 L169.2,340.3 L169.45,340.3 L169.7,340.3 L169.95,340.3 L170.2,340.3 L170.45,340.3 L170.7,340.3 L170.95,340.3 L171.2,340.3 L171.45,340.3 L171.7,340.3 L171.95,340.3 L172.2,340.3 L172.45,340.3 L172.7,340.3 L172.95,340.3 L173.2,340.3 L173.45,340.3 L173.7,340.3 L173.95,340.3 L174.2,340.3 L174.45,340.3 L174.7,340.3 L174.95,340.3 L175.2,340.3 L175.45,340.3 L175.7,340.3 L175.95,340.3 L176.2,340.3 L176.45,340.3 L176.7,340.3 L176.95,340.3 L177.2,340.3 L177.45,340.3 L177.7,340.3 L177.95,340.3 L178.2,340.3 L178.45,340.3 L178.7,340.3 L178.95,340.3 L179.2,340.3 L179.45,340.3 L179.7,340.3 L179.95,340.3 L180.2,340.3 L180.45,340.3 L180.7,340.3 L180.95,340.3 L181.2,340.3 L181.45,340.3 L181.7,340.3 L181.95,340.3 L182.2,340.3 L182.45,340.3 L182.7,340.3 L182.95,340.3 L183.2,340.3 L183.45,340.3 L183.7,340.3 L183.95,340.3 L184.2,340.3 L184.45,340.3 L184.7,340.3 L184.95,340.3 L185.2,340.3 L185.45,340.3 L185.7,340.3 L185.95,340.3 L186.2,340.3 L186.45,340.3 L186.7,340.3 L186.95,340.3 L187.2,340.3 L187.45,340.3 L187.7,340.3 L187.95,340.3 L188.2,340.3 L188.45,340.3 L188.7,340.3 L188.95,340.3 L189.2,340.3 L189.45,340.3 L189.7,340.3 L189.95,340.3 L190.2,340.3 L190.45,340.3 L190.7,340.3 L190.95,340.3 L191.2,340.3 L191.45,340.3 L191.7,340.3 L191.95,340.3 L192.2,340.3 L192.45,340.3 L192.7,340.3 L192.95,340.3 L193.2,340.3 L193.45,340.3 L193.7,340.3 L193.95,340.3 L194.2,340.3 L194.45,340.3 L194.7,340.3 L194.95,340.3 L195.2,340.3 L195.45,340.3 L195.7,340.3 L195.95,340.3 L196.2,340.3 L196.45,340.3 L196.7,340.3 L196.95,340.3 L197.2,340.3 L197.45,340.3 L197.7,340.3 L197.95,340.3 L198.2,340.3 L198.45,340.3 L198.7,340.3 L198.95,340.3 L199.2,340.3 L199.45,340.3 L199.7,340.3 L199.95,340.3 L200.2,340.3 L200.45,340.3 L200.7,340.3 L200.95,340.3 L201.2,340.3 L201.45,340.3 L201.7,340.3 L201.95,340.3 L202.2,340.3 L202.45,340.3 L202.7,340.3 L202.95,340.3 L203.2,340.3 L203.45,340.3 L203.7,340.3 L203.95,340.3 L204.2,340.3 L204.45,340.3 L204.7,340.3 L204.95,340.3 L205.2,340.3 L205.45,340.3 L205.7,340.3 L205.95,340.3 L206.2,340.3 L206.45,340.3 L206.7,340.3 L206.95,340.3 L207.2,340.3 L207.45,340.3 L207.7,340.3 L207.95,340.3 L208.2,340.3 L208.45,340.3 L208.7,340.3 L208.95,340.3 L209.2,340.3 L209.45,340.3 L209.7,340.3 L209.95,340.3 L210.2,340.3 L210.45,340.3 L210.7,340.3 L210.95,340.3 L211.2,340.3 L211.45,340.3 L211.7,340.3 L211.95,340.3 L212.2,340.3 L212.45,340.3 L212.7,340.3 L212.95,340.3 L213.2,340.3 L213.45,340.3 L213.7,340.3 L213.95,340.3 L214.2,340.3 L214.45,340.3 L214.7,340.3 L214.95,340.3 L215.2,340.3 L215.45,340.3 L215.7,340.3 L215.95,340.3 L216.2,340.3 L216.45,340.3 L216.7,340.3 L216.95,340.3 L217.2,340.3 L217.45,340.3 L217.7,340.3 L217.95,340.3 L218.2,340.3 L218.45,340.3 L218.7,340.3 L218.95,340.3 L219.2,340.3 L219.45,340.3 L219.7,340.3 L219.95,340.3 L220.2,340.3 L220.45,340.3 L220.7,340.3 L220.95,340.3 L221.2,340.3 L221.45,340.3 L221.7,340.3 L221.95,340.3 L222.2,340.3 L222.45,340.3 L222.7,340.3 L222.95,340.3 L223.2,340.3 L223.45,340.3 L223.7,340.3 L223.95,340.3 L224.2,340.3 L224.45,340.3 L224.7,340.3 L224.95,340.3 L225.2,340.3 L225.45,340.3 L225.7,340.3 L225.95,340.3 L226.2,340.3" fill="none" stroke="#4e8b2e" stroke-width="1.5" stroke-linejoin="round" />
<line x1="156.7" y1="239.6" x2="171.4" y2="239.6" stroke="#ff0000" stroke-width="1.6"/>
<text x="173.1" y="242.5" text-anchor="start" font-size="8.5" >132 µg/mL</text>
<line x1="156.7" y1="256.7" x2="171.4" y2="256.7" stroke="#4e8b2e" stroke-width="1.6"/>
<text x="173.1" y="259.6" text-anchor="start" font-size="8.5" >13.2 µg/mL</text>
<line x1="294.7" y1="197.55" x2="294.7" y2="341.55" stroke="#000" stroke-width="1.5"/>
<line x1="292" y1="340.8" x2="294.7" y2="340.8" stroke="#000" stroke-width="1.5"/>
<text x="286.7" y="343.9" text-anchor="end" font-size="8.5" >0</text>
<line x1="292" y1="312.3" x2="294.7" y2="312.3" stroke="#000" stroke-width="1.5"/>
<text x="286.7" y="315.4" text-anchor="end" font-size="8.5" >5</text>
<line x1="292" y1="283.8" x2="294.7" y2="283.8" stroke="#000" stroke-width="1.5"/>
<text x="286.7" y="286.9" text-anchor="end" font-size="8.5" >10</text>
<line x1="292" y1="255.3" x2="294.7" y2="255.3" stroke="#000" stroke-width="1.5"/>
<text x="286.7" y="258.4" text-anchor="end" font-size="8.5" >15</text>
<line x1="292" y1="226.8" x2="294.7" y2="226.8" stroke="#000" stroke-width="1.5"/>
<text x="286.7" y="229.9" text-anchor="end" font-size="8.5" >20</text>
<line x1="292" y1="198.3" x2="294.7" y2="198.3" stroke="#000" stroke-width="1.5"/>
<text x="286.7" y="201.4" text-anchor="end" font-size="8.5" >25</text>
<line x1="293.95" y1="340.8" x2="487.95" y2="340.8" stroke="#000" stroke-width="1.5"/>
<line x1="294.7" y1="340.8" x2="294.7" y2="343.2" stroke="#000" stroke-width="1.5"/>
<line x1="310.37" y1="340.8" x2="310.37" y2="343.2" stroke="#000" stroke-width="1.5"/>
<line x1="319.53" y1="340.8" x2="319.53" y2="343.2" stroke="#000" stroke-width="1.5"/>
<line x1="326.03" y1="340.8" x2="326.03" y2="343.2" stroke="#000" stroke-width="1.5"/>
<line x1="331.08" y1="340.8" x2="331.08" y2="343.2" stroke="#000" stroke-width="1.5"/>
<line x1="335.2" y1="340.8" x2="335.2" y2="343.2" stroke="#000" stroke-width="1.5"/>
<line x1="338.68" y1="340.8" x2="338.68" y2="343.2" stroke="#000" stroke-width="1.5"/>
<line x1="341.7" y1="340.8" x2="341.7" y2="343.2" stroke="#000" stroke-width="1.5"/>
<line x1="344.36" y1="340.8" x2="344.36" y2="343.2" stroke="#000" stroke-width="1.5"/>
<line x1="346.74" y1="340.8" x2="346.74" y2="343.2" stroke="#000" stroke-width="1.5"/>
<line x1="362.41" y1="340.8" x2="362.41" y2="343.2" stroke="#000" stroke-width="1.5"/>
<line x1="371.57" y1="340.8" x2="371.57" y2="343.2" stroke="#000" stroke-width="1.5"/>
<line x1="378.07" y1="340.8" x2="378.07" y2="343.2" stroke="#000" stroke-width="1.5"/>
<line x1="383.12" y1="340.8" x2="383.12" y2="343.2" stroke="#000" stroke-width="1.5"/>
<line x1="387.24" y1="340.8" x2="387.24" y2="343.2" stroke="#000" stroke-width="1.5"/>
<line x1="390.72" y1="340.8" x2="390.72" y2="343.2" stroke="#000" stroke-width="1.5"/>
<line x1="393.74" y1="340.8" x2="393.74" y2="343.2" stroke="#000" stroke-width="1.5"/>
<line x1="396.4" y1="340.8" x2="396.4" y2="343.2" stroke="#000" stroke-width="1.5"/>
<line x1="398.78" y1="340.8" x2="398.78" y2="343.2" stroke="#000" stroke-width="1.5"/>
<line x1="414.45" y1="340.8" x2="414.45" y2="343.2" stroke="#000" stroke-width="1.5"/>
<line x1="423.61" y1="340.8" x2="423.61" y2="343.2" stroke="#000" stroke-width="1.5"/>
<line x1="430.12" y1="340.8" x2="430.12" y2="343.2" stroke="#000" stroke-width="1.5"/>
<line x1="435.16" y1="340.8" x2="435.16" y2="343.2" stroke="#000" stroke-width="1.5"/>
<line x1="439.28" y1="340.8" x2="439.28" y2="343.2" stroke="#000" stroke-width="1.5"/>
<line x1="442.76" y1="340.8" x2="442.76" y2="343.2" stroke="#000" stroke-width="1.5"/>
<line x1="445.78" y1="340.8" x2="445.78" y2="343.2" stroke="#000" stroke-width="1.5"/>
<line x1="448.44" y1="340.8" x2="448.44" y2="343.2" stroke="#000" stroke-width="1.5"/>
<line x1="450.82" y1="340.8" x2="450.82" y2="343.2" stroke="#000" stroke-width="1.5"/>
<line x1="466.49" y1="340.8" x2="466.49" y2="343.2" stroke="#000" stroke-width="1.5"/>
<line x1="475.65" y1="340.8" x2="475.65" y2="343.2" stroke="#000" stroke-width="1.5"/>
<line x1="482.16" y1="340.8" x2="482.16" y2="343.2" stroke="#000" stroke-width="1.5"/>
<line x1="487.2" y1="340.8" x2="487.2" y2="343.2" stroke="#000" stroke-width="1.5"/>
<text x="294.7" y="354" text-anchor="middle" font-size="8.5" >1</text>
<text x="346.74" y="354" text-anchor="middle" font-size="8.5" >10</text>
<text x="398.78" y="354" text-anchor="middle" font-size="8.5" >100</text>
<text x="450.82" y="354" text-anchor="middle" font-size="8.5" >1000</text>
<text x="378.6" y="365.4" text-anchor="middle" font-size="8.65" >particle diameter (nm)</text>
<text x="269" y="267.9" text-anchor="middle" font-size="8.65" transform="rotate(-90 269 267.9)">volume (%)</text>
<text x="303.1" y="209.7" text-anchor="start" font-size="10.0" >D</text>
<text x="363" y="209.3" text-anchor="start" font-size="8.6" >PBS buffer</text>
<path d="M294.7,340.8 L330.6,340.8 L332.8,216.1 L334.8,340.8 L338.9,340.8 L341.6,275.9 L344.6,340.8 L354.9,340.8 L356.9,332.4 L358.8,340.8 L380,340.8 L382.6,339.4 L385,340.8 L450.7,340.8 L452.7,334.4 L454,337.9 L457,292.4 L459.3,340.8 L487.2,340.8" fill="none" stroke="#000" stroke-width="1.5" stroke-linejoin="round" />
<line x1="360.9" y1="231.6" x2="375.6" y2="231.6" stroke="#000" stroke-width="1.6"/>
<text x="377.3" y="234.5" text-anchor="start" font-size="8.5" >24 µg/mL</text>
<line x1="39.7" y1="376.65" x2="39.7" y2="520.15" stroke="#000" stroke-width="1.5"/>
<line x1="37" y1="519.4" x2="39.7" y2="519.4" stroke="#000" stroke-width="1.5"/>
<text x="31.7" y="522.5" text-anchor="end" font-size="8.5" >0</text>
<line x1="37" y1="501.65" x2="39.7" y2="501.65" stroke="#000" stroke-width="1.5"/>
<text x="31.7" y="504.75" text-anchor="end" font-size="8.5" >0.5</text>
<line x1="37" y1="483.9" x2="39.7" y2="483.9" stroke="#000" stroke-width="1.5"/>
<text x="31.7" y="487" text-anchor="end" font-size="8.5" >1</text>
<line x1="37" y1="466.15" x2="39.7" y2="466.15" stroke="#000" stroke-width="1.5"/>
<text x="31.7" y="469.25" text-anchor="end" font-size="8.5" >1.5</text>
<line x1="37" y1="448.4" x2="39.7" y2="448.4" stroke="#000" stroke-width="1.5"/>
<text x="31.7" y="451.5" text-anchor="end" font-size="8.5" >2</text>
<line x1="37" y1="430.65" x2="39.7" y2="430.65" stroke="#000" stroke-width="1.5"/>
<text x="31.7" y="433.75" text-anchor="end" font-size="8.5" >2.5</text>
<line x1="37" y1="412.9" x2="39.7" y2="412.9" stroke="#000" stroke-width="1.5"/>
<text x="31.7" y="416" text-anchor="end" font-size="8.5" >3</text>
<line x1="37" y1="395.15" x2="39.7" y2="395.15" stroke="#000" stroke-width="1.5"/>
<text x="31.7" y="398.25" text-anchor="end" font-size="8.5" >3.5</text>
<line x1="37" y1="377.4" x2="39.7" y2="377.4" stroke="#000" stroke-width="1.5"/>
<text x="31.7" y="380.5" text-anchor="end" font-size="8.5" >4</text>
<line x1="38.95" y1="519.4" x2="235.55" y2="519.4" stroke="#000" stroke-width="1.5"/>
<line x1="39.7" y1="519.4" x2="39.7" y2="521.8" stroke="#000" stroke-width="1.5"/>
<line x1="55.58" y1="519.4" x2="55.58" y2="521.8" stroke="#000" stroke-width="1.5"/>
<line x1="64.87" y1="519.4" x2="64.87" y2="521.8" stroke="#000" stroke-width="1.5"/>
<line x1="71.46" y1="519.4" x2="71.46" y2="521.8" stroke="#000" stroke-width="1.5"/>
<line x1="76.57" y1="519.4" x2="76.57" y2="521.8" stroke="#000" stroke-width="1.5"/>
<line x1="80.74" y1="519.4" x2="80.74" y2="521.8" stroke="#000" stroke-width="1.5"/>
<line x1="84.27" y1="519.4" x2="84.27" y2="521.8" stroke="#000" stroke-width="1.5"/>
<line x1="87.33" y1="519.4" x2="87.33" y2="521.8" stroke="#000" stroke-width="1.5"/>
<line x1="90.03" y1="519.4" x2="90.03" y2="521.8" stroke="#000" stroke-width="1.5"/>
<line x1="92.44" y1="519.4" x2="92.44" y2="521.8" stroke="#000" stroke-width="1.5"/>
<line x1="108.32" y1="519.4" x2="108.32" y2="521.8" stroke="#000" stroke-width="1.5"/>
<line x1="117.61" y1="519.4" x2="117.61" y2="521.8" stroke="#000" stroke-width="1.5"/>
<line x1="124.2" y1="519.4" x2="124.2" y2="521.8" stroke="#000" stroke-width="1.5"/>
<line x1="129.31" y1="519.4" x2="129.31" y2="521.8" stroke="#000" stroke-width="1.5"/>
<line x1="133.49" y1="519.4" x2="133.49" y2="521.8" stroke="#000" stroke-width="1.5"/>
<line x1="137.02" y1="519.4" x2="137.02" y2="521.8" stroke="#000" stroke-width="1.5"/>
<line x1="140.08" y1="519.4" x2="140.08" y2="521.8" stroke="#000" stroke-width="1.5"/>
<line x1="142.78" y1="519.4" x2="142.78" y2="521.8" stroke="#000" stroke-width="1.5"/>
<line x1="145.19" y1="519.4" x2="145.19" y2="521.8" stroke="#000" stroke-width="1.5"/>
<line x1="161.07" y1="519.4" x2="161.07" y2="521.8" stroke="#000" stroke-width="1.5"/>
<line x1="170.35" y1="519.4" x2="170.35" y2="521.8" stroke="#000" stroke-width="1.5"/>
<line x1="176.94" y1="519.4" x2="176.94" y2="521.8" stroke="#000" stroke-width="1.5"/>
<line x1="182.06" y1="519.4" x2="182.06" y2="521.8" stroke="#000" stroke-width="1.5"/>
<line x1="186.23" y1="519.4" x2="186.23" y2="521.8" stroke="#000" stroke-width="1.5"/>
<line x1="189.76" y1="519.4" x2="189.76" y2="521.8" stroke="#000" stroke-width="1.5"/>
<line x1="192.82" y1="519.4" x2="192.82" y2="521.8" stroke="#000" stroke-width="1.5"/>
<line x1="195.52" y1="519.4" x2="195.52" y2="521.8" stroke="#000" stroke-width="1.5"/>
<line x1="197.93" y1="519.4" x2="197.93" y2="521.8" stroke="#000" stroke-width="1.5"/>
<line x1="213.81" y1="519.4" x2="213.81" y2="521.8" stroke="#000" stroke-width="1.5"/>
<line x1="223.1" y1="519.4" x2="223.1" y2="521.8" stroke="#000" stroke-width="1.5"/>
<line x1="229.69" y1="519.4" x2="229.69" y2="521.8" stroke="#000" stroke-width="1.5"/>
<line x1="234.8" y1="519.4" x2="234.8" y2="521.8" stroke="#000" stroke-width="1.5"/>
<text x="39.7" y="532.6" text-anchor="middle" font-size="8.5" >1</text>
<text x="92.44" y="532.6" text-anchor="middle" font-size="8.5" >10</text>
<text x="145.19" y="532.6" text-anchor="middle" font-size="8.5" >100</text>
<text x="197.93" y="532.6" text-anchor="middle" font-size="8.5" >1000</text>
<text x="128.6" y="543.4" text-anchor="middle" font-size="8.65" >particle diameter (nm)</text>
<text x="12.3" y="444.2" text-anchor="middle" font-size="8.65" transform="rotate(-90 12.3 444.2)">intensity (%)</text>
<text x="49.6" y="386.8" text-anchor="start" font-size="10.0" >E</text>
<text x="116" y="387.5" text-anchor="start" font-size="8.6" >MES buffer</text>
<path d="M39.7,519.4 L39.95,519.4 L40.2,519.4 L40.45,519.4 L40.7,519.4 L40.95,519.4 L41.2,519.4 L41.45,519.4 L41.7,519.4 L41.95,519.4 L42.2,519.4 L42.45,519.4 L42.7,519.4 L42.95,519.4 L43.2,519.4 L43.45,519.4 L43.7,519.4 L43.95,519.4 L44.2,519.4 L44.45,519.4 L44.7,519.4 L44.95,519.4 L45.2,519.4 L45.45,519.4 L45.7,519.4 L45.95,519.4 L46.2,519.4 L46.45,519.4 L46.7,519.4 L46.95,519.4 L47.2,519.4 L47.45,519.4 L47.7,519.4 L47.95,519.4 L48.2,519.4 L48.45,519.4 L48.7,519.4 L48.95,519.4 L49.2,519.4 L49.45,519.4 L49.7,519.4 L49.95,519.4 L50.2,519.4 L50.45,519.4 L50.7,519.4 L50.95,519.4 L51.2,519.4 L51.45,519.4 L51.7,519.4 L51.95,519.4 L52.2,519.4 L52.45,519.4 L52.7,519.4 L52.95,519.4 L53.2,519.4 L53.45,519.4 L53.7,519.4 L53.95,519.4 L54.2,519.4 L54.45,519.4 L54.7,519.4 L54.95,519.4 L55.2,519.4 L55.45,519.4 L55.7,519.4 L55.95,519.4 L56.2,519.4 L56.45,519.4 L56.7,519.4 L56.95,519.4 L57.2,519.4 L57.45,519.4 L57.7,519.4 L57.95,519.4 L58.2,519.4 L58.45,519.4 L58.7,519.4 L58.95,519.4 L59.2,519.4 L59.45,519.4 L59.7,519.4 L59.95,519.4 L60.2,519.4 L60.45,519.4 L60.7,519.4 L60.95,519.4 L61.2,519.4 L61.45,519.4 L61.7,519.4 L61.95,519.4 L62.2,519.4 L62.45,519.4 L62.7,519.4 L62.95,519.4 L63.2,519.4 L63.45,519.4 L63.7,519.4 L63.95,519.4 L64.2,519.4 L64.45,519.4 L64.7,519.4 L64.95,519.4 L65.2,519.4 L65.45,519.4 L65.7,519.4 L65.95,519.4 L66.2,519.4 L66.45,519.4 L66.7,519.4 L66.95,519.4 L67.2,519.4 L67.45,519.4 L67.7,519.4 L67.95,519.4 L68.2,519.4 L68.45,519.4 L68.7,519.4 L68.95,519.4 L69.2,519.4 L69.45,519.4 L69.7,519.4 L69.95,519.4 L70.2,519.4 L70.45,519.4 L70.7,519.4 L70.95,519.4 L71.2,519.4 L71.45,519.4 L71.7,519.4 L71.95,519.4 L72.2,519.4 L72.45,519.4 L72.7,519.4 L72.95,519.4 L73.2,519.4 L73.45,519.4 L73.7,519.4 L73.95,519.4 L74.2,519.4 L74.45,519.4 L74.7,519.4 L74.95,519.4 L75.2,519.4 L75.45,519.4 L75.7,519.4 L75.95,519.4 L76.2,519.37 L76.45,519.24 L76.7,519.02 L76.95,518.74 L77.2,518.41 L77.45,518.03 L77.7,517.63 L77.95,517.22 L78.2,516.81 L78.45,516.43 L78.7,516.07 L78.95,515.77 L79.2,515.52 L79.45,515.36 L79.7,515.27 L79.95,515.22 L80.2,515.17 L80.45,515.13 L80.7,515.1 L80.95,515.07 L81.2,515.04 L81.45,515.02 L81.7,514.99 L81.95,514.96 L82.2,514.93 L82.45,514.9 L82.7,514.86 L82.95,514.81 L83.2,514.75 L83.45,514.66 L83.7,514.55 L83.95,514.42 L84.2,514.28 L84.45,514.14 L84.7,513.99 L84.95,513.84 L85.2,513.7 L85.45,513.56 L85.7,513.44 L85.95,513.34 L86.2,513.27 L86.45,513.22 L86.7,513.2 L86.95,513.22 L87.2,513.29 L87.45,513.4 L87.7,513.54 L87.95,513.71 L88.2,513.91 L88.45,514.12 L88.7,514.34 L88.95,514.57 L89.2,514.81 L89.45,515.04 L89.7,515.26 L89.95,515.46 L90.2,515.66 L90.45,515.89 L90.7,516.14 L90.95,516.4 L91.2,516.68 L91.45,516.97 L91.7,517.25 L91.95,517.54 L92.2,517.83 L92.45,518.1 L92.7,518.36 L92.95,518.6 L93.2,518.82 L93.45,519.01 L93.7,519.16 L93.95,519.28 L94.2,519.36 L94.45,519.4 L94.7,519.4 L94.95,519.4 L95.2,519.4 L95.45,519.4 L95.7,519.4 L95.95,519.4 L96.2,519.4 L96.45,519.4 L96.7,519.4 L96.95,519.4 L97.2,519.4 L97.45,519.4 L97.7,519.4 L97.95,519.4 L98.2,519.4 L98.45,519.4 L98.7,519.4 L98.95,519.4 L99.2,519.4 L99.45,519.4 L99.7,519.4 L99.95,519.4 L100.2,519.4 L100.45,519.4 L100.7,519.4 L100.95,519.4 L101.2,519.4 L101.45,519.4 L101.7,519.4 L101.95,519.4 L102.2,519.4 L102.45,519.4 L102.7,519.4 L102.95,519.4 L103.2,519.4 L103.45,519.4 L103.7,519.4 L103.95,519.4 L104.2,519.4 L104.45,519.4 L104.7,519.4 L104.95,519.4 L105.2,519.4 L105.45,519.35 L105.7,519.21 L105.95,518.98 L106.2,518.67 L106.45,518.3 L106.7,517.86 L106.95,517.37 L107.2,516.83 L107.45,516.25 L107.7,515.65 L107.95,515.02 L108.2,514.37 L108.45,513.72 L108.7,513.07 L108.95,512.43 L109.2,511.8 L109.45,511.2 L109.7,510.63 L109.95,510.1 L110.2,509.59 L110.45,509.03 L110.7,508.44 L110.95,507.82 L111.2,507.18 L111.45,506.51 L111.7,505.84 L111.95,505.17 L112.2,504.5 L112.45,503.85 L112.7,503.21 L112.95,502.59 L113.2,502.01 L113.45,501.47 L113.7,500.97 L113.95,500.52 L114.2,500.13 L114.45,499.81 L114.7,499.56 L114.95,499.39 L115.2,499.31 L115.45,499.31 L115.7,499.35 L115.95,499.43 L116.2,499.54 L116.45,499.68 L116.7,499.84 L116.95,500.03 L117.2,500.23 L117.45,500.45 L117.7,500.69 L117.95,500.93 L118.2,501.18 L118.45,501.43 L118.7,501.68 L118.95,501.92 L119.2,502.16 L119.45,502.39 L119.7,502.6 L119.95,502.8 L120.2,502.97 L120.45,503.12 L120.7,503.25 L120.95,503.37 L121.2,503.5 L121.45,503.62 L121.7,503.75 L121.95,503.87 L122.2,503.99 L122.45,504.11 L122.7,504.22 L122.95,504.32 L123.2,504.41 L123.45,504.49 L123.7,504.56 L123.95,504.62 L124.2,504.66 L124.45,504.69 L124.7,504.7 L124.95,504.66 L125.2,504.56 L125.45,504.38 L125.7,504.15 L125.95,503.87 L126.2,503.54 L126.45,503.16 L126.7,502.75 L126.95,502.31 L127.2,501.84 L127.45,501.35 L127.7,500.85 L127.95,500.34 L128.2,499.83 L128.45,499.32 L128.7,498.81 L128.95,498.33 L129.2,497.86 L129.45,497.41 L129.7,497 L129.95,496.63 L130.2,496.27 L130.45,495.91 L130.7,495.5 L130.95,495.01 L131.2,494.4 L131.45,493.63 L131.7,492.73 L131.95,491.71 L132.2,490.58 L132.45,489.37 L132.7,488.1 L132.95,486.77 L133.2,485.42 L133.45,484.05 L133.7,482.68 L133.95,481.33 L134.2,479.93 L134.45,478.44 L134.7,476.89 L134.95,475.28 L135.2,473.62 L135.45,471.94 L135.7,470.24 L135.95,468.54 L136.2,466.86 L136.45,465.19 L136.7,463.56 L136.95,461.99 L137.2,460.44 L137.45,458.9 L137.7,457.36 L137.95,455.84 L138.2,454.32 L138.45,452.8 L138.7,451.3 L138.95,449.8 L139.2,448.3 L139.45,446.81 L139.7,445.33 L139.95,443.84 L140.2,442.36 L140.45,440.89 L140.7,439.41 L140.95,437.89 L141.2,436.35 L141.45,434.78 L141.7,433.19 L141.95,431.59 L142.2,430 L142.45,428.41 L142.7,426.84 L142.95,425.29 L143.2,423.77 L143.45,422.3 L143.7,420.88 L143.95,419.51 L144.2,418.21 L144.45,416.99 L144.7,415.85 L144.95,414.8 L145.2,413.82 L145.45,412.87 L145.7,411.94 L145.95,411.05 L146.2,410.18 L146.45,409.34 L146.7,408.54 L146.95,407.78 L147.2,407.05 L147.45,406.37 L147.7,405.73 L147.95,405.14 L148.2,404.59 L148.45,404.09 L148.7,403.63 L148.95,403.15 L149.2,402.68 L149.45,402.23 L149.7,401.81 L149.95,401.43 L150.2,401.1 L150.45,400.85 L150.7,400.68 L150.95,400.6 L151.2,400.6 L151.45,400.62 L151.7,400.65 L151.95,400.7 L152.2,400.75 L152.45,400.82 L152.7,400.9 L152.95,400.99 L153.2,401.1 L153.45,401.21 L153.7,401.34 L153.95,401.47 L154.2,401.7 L154.45,402.18 L154.7,402.87 L154.95,403.72 L155.2,404.67 L155.45,405.7 L155.7,406.73 L155.95,407.74 L156.2,408.66 L156.45,409.48 L156.7,410.25 L156.95,410.98 L157.2,411.71 L157.45,412.45 L157.7,413.22 L157.95,414.04 L158.2,414.92 L158.45,415.88 L158.7,416.94 L158.95,418.19 L159.2,419.6 L159.45,421.16 L159.7,422.83 L159.95,424.6 L160.2,426.43 L160.45,428.31 L160.7,430.21 L160.95,432.1 L161.2,433.96 L161.45,435.76 L161.7,437.48 L161.95,439.09 L162.2,440.59 L162.45,442.02 L162.7,443.43 L162.95,444.81 L163.2,446.16 L163.45,447.49 L163.7,448.8 L163.95,450.09 L164.2,451.36 L164.45,452.62 L164.7,453.87 L164.95,455.11 L165.2,456.34 L165.45,457.57 L165.7,458.81 L165.95,460.03 L166.2,461.23 L166.45,462.4 L166.7,463.54 L166.95,464.66 L167.2,465.78 L167.45,466.89 L167.7,468 L167.95,469.12 L168.2,470.25 L168.45,471.4 L168.7,472.57 L168.95,473.78 L169.2,475.02 L169.45,476.31 L169.7,477.64 L169.95,479.07 L170.2,480.56 L170.45,482.12 L170.7,483.72 L170.95,485.35 L171.2,486.99 L171.45,488.61 L171.7,490.22 L171.95,491.78 L172.2,493.29 L172.45,494.72 L172.7,496.1 L172.95,497.49 L173.2,498.89 L173.45,500.27 L173.7,501.63 L173.95,502.96 L174.2,504.25 L174.45,505.48 L174.7,506.65 L174.95,507.74 L175.2,508.73 L175.45,509.63 L175.7,510.45 L175.95,511.23 L176.2,511.99 L176.45,512.71 L176.7,513.4 L176.95,514.05 L177.2,514.67 L177.45,515.24 L177.7,515.78 L177.95,516.27 L178.2,516.72 L178.45,517.12 L178.7,517.5 L178.95,517.88 L179.2,518.26 L179.45,518.61 L179.7,518.91 L179.95,519.16 L180.2,519.32 L180.45,519.4 L180.7,519.4 L180.95,519.4 L181.2,519.4 L181.45,519.4 L181.7,519.4 L181.95,519.4 L182.2,519.4 L182.45,519.4 L182.7,519.4 L182.95,519.4 L183.2,519.4 L183.45,519.4 L183.7,519.4 L183.95,519.4 L184.2,519.4 L184.45,519.4 L184.7,519.4 L184.95,519.4 L185.2,519.4 L185.45,519.4 L185.7,519.4 L185.95,519.4 L186.2,519.4 L186.45,519.4 L186.7,519.4 L186.95,519.4 L187.2,519.4 L187.45,519.4 L187.7,519.4 L187.95,519.4 L188.2,519.4 L188.45,519.4 L188.7,519.4 L188.95,519.4 L189.2,519.4 L189.45,519.4 L189.7,519.4 L189.95,519.4 L190.2,519.4 L190.45,519.4 L190.7,519.4 L190.95,519.4 L191.2,519.4 L191.45,519.4 L191.7,519.4 L191.95,519.4 L192.2,519.4 L192.45,519.4 L192.7,519.4 L192.95,519.4 L193.2,519.4 L193.45,519.4 L193.7,519.4 L193.95,519.4 L194.2,519.4 L194.45,519.4 L194.7,519.4 L194.95,519.4 L195.2,519.4 L195.45,519.4 L195.7,519.4 L195.95,519.4 L196.2,519.4 L196.45,519.4 L196.7,519.4 L196.95,519.4 L197.2,519.4 L197.45,519.4 L197.7,519.4 L197.95,519.4 L198.2,519.4 L198.45,519.4 L198.7,519.4 L198.95,519.4 L199.2,519.4 L199.45,519.4 L199.7,519.4 L199.95,519.4 L200.2,519.4 L200.45,519.4 L200.7,519.4 L200.95,519.4 L201.2,519.4 L201.45,519.4 L201.7,519.4 L201.95,519.4 L202.2,519.4 L202.45,519.4 L202.7,519.4 L202.95,519.4 L203.2,519.4 L203.45,519.4 L203.7,519.4 L203.95,519.4 L204.2,519.4 L204.45,519.4 L204.7,519.4 L204.95,519.4 L205.2,519.4 L205.45,519.4 L205.7,519.4" fill="none" stroke="#ff0000" stroke-width="1.35" stroke-linejoin="round" />
<path d="M39.7,519.4 L39.95,519.4 L40.2,519.4 L40.45,519.4 L40.7,519.4 L40.95,519.4 L41.2,519.4 L41.45,519.4 L41.7,519.4 L41.95,519.4 L42.2,519.4 L42.45,519.4 L42.7,519.4 L42.95,519.4 L43.2,519.4 L43.45,519.4 L43.7,519.4 L43.95,519.4 L44.2,519.4 L44.45,519.4 L44.7,519.4 L44.95,519.4 L45.2,519.4 L45.45,519.4 L45.7,519.4 L45.95,519.4 L46.2,519.4 L46.45,519.4 L46.7,519.4 L46.95,519.4 L47.2,519.4 L47.45,519.4 L47.7,519.4 L47.95,519.4 L48.2,519.4 L48.45,519.4 L48.7,519.4 L48.95,519.4 L49.2,519.4 L49.45,519.4 L49.7,519.4 L49.95,519.4 L50.2,519.4 L50.45,519.4 L50.7,519.4 L50.95,519.4 L51.2,519.4 L51.45,519.4 L51.7,519.4 L51.95,519.4 L52.2,519.4 L52.45,519.4 L52.7,519.4 L52.95,519.4 L53.2,519.4 L53.45,519.4 L53.7,519.4 L53.95,519.4 L54.2,519.4 L54.45,519.4 L54.7,519.4 L54.95,519.4 L55.2,519.4 L55.45,519.4 L55.7,519.4 L55.95,519.4 L56.2,519.4 L56.45,519.4 L56.7,519.4 L56.95,519.4 L57.2,519.4 L57.45,519.4 L57.7,519.4 L57.95,519.4 L58.2,519.4 L58.45,519.4 L58.7,519.4 L58.95,519.4 L59.2,519.4 L59.45,519.4 L59.7,519.4 L59.95,519.4 L60.2,519.4 L60.45,519.4 L60.7,519.4 L60.95,519.4 L61.2,519.4 L61.45,519.4 L61.7,519.4 L61.95,519.4 L62.2,519.4 L62.45,519.4 L62.7,519.4 L62.95,519.4 L63.2,519.4 L63.45,519.4 L63.7,519.4 L63.95,519.4 L64.2,519.4 L64.45,519.4 L64.7,519.4 L64.95,519.4 L65.2,519.4 L65.45,519.4 L65.7,519.4 L65.95,519.4 L66.2,519.4 L66.45,519.4 L66.7,519.4 L66.95,519.4 L67.2,519.4 L67.45,519.4 L67.7,519.4 L67.95,519.4 L68.2,519.4 L68.45,519.4 L68.7,519.4 L68.95,519.4 L69.2,519.4 L69.45,519.4 L69.7,519.4 L69.95,519.4 L70.2,519.4 L70.45,519.4 L70.7,519.4 L70.95,519.4 L71.2,519.4 L71.45,519.4 L71.7,519.4 L71.95,519.4 L72.2,519.4 L72.45,519.4 L72.7,519.4 L72.95,519.4 L73.2,519.4 L73.45,519.4 L73.7,519.4 L73.95,519.4 L74.2,519.4 L74.45,519.4 L74.7,519.4 L74.95,519.4 L75.2,519.4 L75.45,519.32 L75.7,519.11 L75.95,518.78 L76.2,518.36 L76.45,517.87 L76.7,517.33 L76.95,516.76 L77.2,516.19 L77.45,515.63 L77.7,515.12 L77.95,514.67 L78.2,514.3 L78.45,514.03 L78.7,513.9 L78.95,513.84 L79.2,513.8 L79.45,513.76 L79.7,513.73 L79.95,513.71 L80.2,513.68 L80.45,513.66 L80.7,513.63 L80.95,513.6 L81.2,513.56 L81.45,513.51 L81.7,513.43 L81.95,513.29 L82.2,513.1 L82.45,512.87 L82.7,512.61 L82.95,512.33 L83.2,512.03 L83.45,511.73 L83.7,511.43 L83.95,511.15 L84.2,510.9 L84.45,510.67 L84.7,510.5 L84.95,510.37 L85.2,510.31 L85.45,510.31 L85.7,510.4 L85.95,510.56 L86.2,510.77 L86.45,511.04 L86.7,511.35 L86.95,511.69 L87.2,512.06 L87.45,512.44 L87.7,512.83 L87.95,513.21 L88.2,513.58 L88.45,513.93 L88.7,514.29 L88.95,514.7 L89.2,515.15 L89.45,515.64 L89.7,516.15 L89.95,516.67 L90.2,517.18 L90.45,517.67 L90.7,518.12 L90.95,518.52 L91.2,518.87 L91.45,519.14 L91.7,519.32 L91.95,519.4 L92.2,519.4 L92.45,519.4 L92.7,519.4 L92.95,519.4 L93.2,519.4 L93.45,519.4 L93.7,519.4 L93.95,519.4 L94.2,519.4 L94.45,519.4 L94.7,519.4 L94.95,519.4 L95.2,519.4 L95.45,519.4 L95.7,519.4 L95.95,519.4 L96.2,519.4 L96.45,519.4 L96.7,519.4 L96.95,519.4 L97.2,519.4 L97.45,519.4 L97.7,519.4 L97.95,519.4 L98.2,519.4 L98.45,519.4 L98.7,519.4 L98.95,519.4 L99.2,519.4 L99.45,519.4 L99.7,519.4 L99.95,519.4 L100.2,519.4 L100.45,519.4 L100.7,519.4 L100.95,519.4 L101.2,519.4 L101.45,519.4 L101.7,519.4 L101.95,519.4 L102.2,519.4 L102.45,519.4 L102.7,519.4 L102.95,519.4 L103.2,519.4 L103.45,519.4 L103.7,519.4 L103.95,519.4 L104.2,519.4 L104.45,519.4 L104.7,519.4 L104.95,519.4 L105.2,519.4 L105.45,519.4 L105.7,519.4 L105.95,519.4 L106.2,519.4 L106.45,519.4 L106.7,519.4 L106.95,519.4 L107.2,519.4 L107.45,519.4 L107.7,519.4 L107.95,519.4 L108.2,519.4 L108.45,519.38 L108.7,519.29 L108.95,519.12 L109.2,518.88 L109.45,518.58 L109.7,518.22 L109.95,517.82 L110.2,517.37 L110.45,516.9 L110.7,516.4 L110.95,515.88 L111.2,515.36 L111.45,514.83 L111.7,514.31 L111.95,513.81 L112.2,513.32 L112.45,512.86 L112.7,512.44 L112.95,512.07 L113.2,511.72 L113.45,511.37 L113.7,511.01 L113.95,510.65 L114.2,510.29 L114.45,509.93 L114.7,509.57 L114.95,509.22 L115.2,508.88 L115.45,508.55 L115.7,508.24 L115.95,507.94 L116.2,507.67 L116.45,507.41 L116.7,507.19 L116.95,506.98 L117.2,506.81 L117.45,506.67 L117.7,506.55 L117.95,506.43 L118.2,506.31 L118.45,506.2 L118.7,506.1 L118.95,506 L119.2,505.91 L119.45,505.83 L119.7,505.75 L119.95,505.68 L120.2,505.62 L120.45,505.57 L120.7,505.53 L120.95,505.5 L121.2,505.48 L121.45,505.47 L121.7,505.45 L121.95,505.44 L122.2,505.43 L122.45,505.42 L122.7,505.41 L122.95,505.4 L123.2,505.4 L123.45,505.39 L123.7,505.38 L123.95,505.37 L124.2,505.36 L124.45,505.34 L124.7,505.33 L124.95,505.3 L125.2,505.26 L125.45,505.17 L125.7,505.04 L125.95,504.85 L126.2,504.63 L126.45,504.37 L126.7,504.07 L126.95,503.74 L127.2,503.39 L127.45,503.01 L127.7,502.61 L127.95,502.19 L128.2,501.76 L128.45,501.31 L128.7,500.86 L128.95,500.4 L129.2,499.95 L129.45,499.49 L129.7,499.02 L129.95,498.5 L130.2,497.93 L130.45,497.32 L130.7,496.67 L130.95,495.98 L131.2,495.27 L131.45,494.53 L131.7,493.77 L131.95,492.99 L132.2,492.2 L132.45,491.4 L132.7,490.6 L132.95,489.8 L133.2,489 L133.45,488.19 L133.7,487.36 L133.95,486.51 L134.2,485.63 L134.45,484.73 L134.7,483.82 L134.95,482.9 L135.2,481.97 L135.45,481.03 L135.7,480.09 L135.95,479.14 L136.2,478.2 L136.45,477.27 L136.7,476.34 L136.95,475.42 L137.2,474.49 L137.45,473.56 L137.7,472.63 L137.95,471.69 L138.2,470.75 L138.45,469.81 L138.7,468.87 L138.95,467.94 L139.2,467.02 L139.45,466.11 L139.7,465.21 L139.95,464.32 L140.2,463.4 L140.45,462.43 L140.7,461.43 L140.95,460.42 L141.2,459.43 L141.45,458.47 L141.7,457.57 L141.95,456.74 L142.2,456.02 L142.45,455.41 L142.7,454.94 L142.95,454.61 L143.2,454.3 L143.45,453.99 L143.7,453.7 L143.95,453.42 L144.2,453.16 L144.45,452.91 L144.7,452.67 L144.95,452.46 L145.2,452.26 L145.45,452.07 L145.7,451.91 L145.95,451.77 L146.2,451.65 L146.45,451.55 L146.7,451.48 L146.95,451.43 L147.2,451.4 L147.45,451.4 L147.7,451.43 L147.95,451.48 L148.2,451.55 L148.45,451.64 L148.7,451.75 L148.95,451.88 L149.2,452.02 L149.45,452.18 L149.7,452.35 L149.95,452.54 L150.2,452.73 L150.45,452.94 L150.7,453.15 L150.95,453.37 L151.2,453.59 L151.45,453.82 L151.7,454.05 L151.95,454.29 L152.2,454.52 L152.45,454.75 L152.7,455 L152.95,455.3 L153.2,455.64 L153.45,456.02 L153.7,456.43 L153.95,456.86 L154.2,457.31 L154.45,457.77 L154.7,458.24 L154.95,458.7 L155.2,459.15 L155.45,459.59 L155.7,460.01 L155.95,460.4 L156.2,460.75 L156.45,461.06 L156.7,461.33 L156.95,461.54 L157.2,461.73 L157.45,461.92 L157.7,462.11 L157.95,462.29 L158.2,462.47 L158.45,462.64 L158.7,462.81 L158.95,462.96 L159.2,463.11 L159.45,463.25 L159.7,463.37 L159.95,463.48 L160.2,463.58 L160.45,463.66 L160.7,463.72 L160.95,463.77 L161.2,463.79 L161.45,463.8 L161.7,463.77 L161.95,463.69 L162.2,463.57 L162.45,463.41 L162.7,463.23 L162.95,463.02 L163.2,462.79 L163.45,462.54 L163.7,462.28 L163.95,462.01 L164.2,461.73 L164.45,461.46 L164.7,461.2 L164.95,460.95 L165.2,460.7 L165.45,460.46 L165.7,460.21 L165.95,459.95 L166.2,459.69 L166.45,459.42 L166.7,459.14 L166.95,458.86 L167.2,458.58 L167.45,458.28 L167.7,457.99 L167.95,457.69 L168.2,457.38 L168.45,457.07 L168.7,456.76 L168.95,456.44 L169.2,456.12 L169.45,455.8 L169.7,455.46 L169.95,455.09 L170.2,454.66 L170.45,454.2 L170.7,453.72 L170.95,453.23 L171.2,452.73 L171.45,452.25 L171.7,451.78 L171.95,451.35 L172.2,450.97 L172.45,450.64 L172.7,450.38 L172.95,450.2 L173.2,450.11 L173.45,450.1 L173.7,450.12 L173.95,450.15 L174.2,450.19 L174.45,450.25 L174.7,450.32 L174.95,450.4 L175.2,450.49 L175.45,450.59 L175.7,450.7 L175.95,450.82 L176.2,450.95 L176.45,451.09 L176.7,451.24 L176.95,451.4 L177.2,451.56 L177.45,451.73 L177.7,451.9 L177.95,452.12 L178.2,452.41 L178.45,452.78 L178.7,453.21 L178.95,453.68 L179.2,454.21 L179.45,454.77 L179.7,455.35 L179.95,455.96 L180.2,456.57 L180.45,457.19 L180.7,457.8 L180.95,458.42 L181.2,459.08 L181.45,459.78 L181.7,460.51 L181.95,461.26 L182.2,462.04 L182.45,462.85 L182.7,463.68 L182.95,464.52 L183.2,465.39 L183.45,466.27 L183.7,467.16 L183.95,468.06 L184.2,468.97 L184.45,469.88 L184.7,470.81 L184.95,471.77 L185.2,472.74 L185.45,473.74 L185.7,474.75 L185.95,475.79 L186.2,476.84 L186.45,477.91 L186.7,478.99 L186.95,480.08 L187.2,481.19 L187.45,482.31 L187.7,483.45 L187.95,484.59 L188.2,485.74 L188.45,486.9 L188.7,488.06 L188.95,489.24 L189.2,490.5 L189.45,491.88 L189.7,493.32 L189.95,494.81 L190.2,496.3 L190.45,497.77 L190.7,499.18 L190.95,500.49 L191.2,501.67 L191.45,502.7 L191.7,503.53 L191.95,504.17 L192.2,504.75 L192.45,505.28 L192.7,505.78 L192.95,506.24 L193.2,506.68 L193.45,507.08 L193.7,507.46 L193.95,507.82 L194.2,508.16 L194.45,508.49 L194.7,508.81 L194.95,509.12 L195.2,509.43 L195.45,509.74 L195.7,510.05 L195.95,510.34 L196.2,510.63 L196.45,510.91 L196.7,511.17 L196.95,511.43 L197.2,511.69 L197.45,511.93 L197.7,512.18 L197.95,512.41 L198.2,512.65 L198.45,512.88 L198.7,513.11 L198.95,513.33 L199.2,513.56 L199.45,513.79 L199.7,514.02 L199.95,514.25 L200.2,514.49 L200.45,514.75 L200.7,515.01 L200.95,515.29 L201.2,515.57 L201.45,515.86 L201.7,516.15 L201.95,516.45 L202.2,516.74 L202.45,517.03 L202.7,517.31 L202.95,517.58 L203.2,517.85 L203.45,518.1 L203.7,518.33 L203.95,518.55 L204.2,518.75 L204.45,518.93 L204.7,519.08 L204.95,519.2 L205.2,519.3 L205.45,519.37 L205.7,519.4 L205.95,519.4 L206.2,519.4 L206.45,519.4 L206.7,519.4 L206.95,519.4 L207.2,519.4 L207.45,519.4 L207.7,519.4 L207.95,519.4 L208.2,519.4 L208.45,519.4 L208.7,519.4 L208.95,519.4 L209.2,519.4 L209.45,519.4 L209.7,519.4 L209.95,519.4 L210.2,519.4 L210.45,519.4 L210.7,519.4 L210.95,519.4 L211.2,519.4 L211.45,519.4 L211.7,519.4 L211.95,519.4 L212.2,519.4 L212.45,519.4 L212.7,519.4 L212.95,519.4 L213.2,519.4 L213.45,519.4 L213.7,519.4 L213.95,519.4 L214.2,519.4 L214.45,519.4 L214.7,519.4 L214.95,519.4 L215.2,519.4 L215.45,519.4 L215.7,519.4 L215.95,519.4 L216.2,519.4 L216.45,519.4 L216.7,519.4 L216.95,519.4 L217.2,519.4 L217.45,519.4 L217.7,519.4 L217.95,519.4 L218.2,519.4 L218.45,519.4 L218.7,519.4 L218.95,519.4 L219.2,519.4 L219.45,519.4 L219.7,519.4 L219.95,519.4 L220.2,519.4 L220.45,519.4 L220.7,519.4 L220.95,519.4 L221.2,519.4 L221.45,519.4 L221.7,519.4 L221.95,519.4 L222.2,519.4 L222.45,519.4 L222.7,519.4 L222.95,519.4 L223.2,519.4 L223.45,519.4 L223.7,519.4 L223.95,519.4 L224.2,519.4 L224.45,519.4 L224.7,519.4 L224.95,519.4 L225.2,519.4 L225.45,519.4 L225.7,519.4 L225.95,519.4 L226.2,519.4 L226.45,519.4 L226.7,519.4 L226.95,519.4 L227.2,519.4 L227.45,519.4 L227.7,519.4 L227.95,519.4 L228.2,519.4 L228.45,519.4 L228.7,519.4 L228.95,519.4 L229.2,519.4 L229.45,519.4 L229.7,519.4 L229.95,519.4 L230.2,519.4 L230.45,519.4 L230.7,519.4 L230.95,519.4 L231.2,519.4 L231.45,519.4 L231.7,519.4 L231.95,519.4 L232.2,519.4 L232.45,519.4 L232.7,519.4 L232.95,519.4 L233.2,519.4 L233.45,519.4 L233.7,519.4 L233.95,519.4 L234.2,519.4 L234.45,519.4 L234.7,519.4" fill="none" stroke="#4e8b2e" stroke-width="1.35" stroke-linejoin="round" />
<line x1="62.1" y1="416.3" x2="76.8" y2="416.3" stroke="#ff0000" stroke-width="1.6"/>
<text x="78.5" y="419.2" text-anchor="start" font-size="8.5" >132 µg/mL</text>
<line x1="62.1" y1="433.6" x2="76.8" y2="433.6" stroke="#4e8b2e" stroke-width="1.6"/>
<text x="78.5" y="436.5" text-anchor="start" font-size="8.5" >13.2 µg/mL</text>
<line x1="294.7" y1="377.55" x2="294.7" y2="520.55" stroke="#000" stroke-width="1.5"/>
<line x1="292" y1="519.8" x2="294.7" y2="519.8" stroke="#000" stroke-width="1.5"/>
<text x="286.7" y="522.9" text-anchor="end" font-size="8.5" >0</text>
<line x1="292" y1="496.22" x2="294.7" y2="496.22" stroke="#000" stroke-width="1.5"/>
<text x="286.7" y="499.32" text-anchor="end" font-size="8.5" >10</text>
<line x1="292" y1="472.63" x2="294.7" y2="472.63" stroke="#000" stroke-width="1.5"/>
<text x="286.7" y="475.73" text-anchor="end" font-size="8.5" >20</text>
<line x1="292" y1="449.05" x2="294.7" y2="449.05" stroke="#000" stroke-width="1.5"/>
<text x="286.7" y="452.15" text-anchor="end" font-size="8.5" >30</text>
<line x1="292" y1="425.47" x2="294.7" y2="425.47" stroke="#000" stroke-width="1.5"/>
<text x="286.7" y="428.57" text-anchor="end" font-size="8.5" >40</text>
<line x1="292" y1="401.88" x2="294.7" y2="401.88" stroke="#000" stroke-width="1.5"/>
<text x="286.7" y="404.98" text-anchor="end" font-size="8.5" >50</text>
<line x1="292" y1="378.3" x2="294.7" y2="378.3" stroke="#000" stroke-width="1.5"/>
<text x="286.7" y="381.4" text-anchor="end" font-size="8.5" >60</text>
<line x1="293.95" y1="519.8" x2="491.35" y2="519.8" stroke="#000" stroke-width="1.5"/>
<line x1="294.7" y1="519.8" x2="294.7" y2="522.2" stroke="#000" stroke-width="1.5"/>
<line x1="310.64" y1="519.8" x2="310.64" y2="522.2" stroke="#000" stroke-width="1.5"/>
<line x1="319.97" y1="519.8" x2="319.97" y2="522.2" stroke="#000" stroke-width="1.5"/>
<line x1="326.59" y1="519.8" x2="326.59" y2="522.2" stroke="#000" stroke-width="1.5"/>
<line x1="331.72" y1="519.8" x2="331.72" y2="522.2" stroke="#000" stroke-width="1.5"/>
<line x1="335.91" y1="519.8" x2="335.91" y2="522.2" stroke="#000" stroke-width="1.5"/>
<line x1="339.46" y1="519.8" x2="339.46" y2="522.2" stroke="#000" stroke-width="1.5"/>
<line x1="342.53" y1="519.8" x2="342.53" y2="522.2" stroke="#000" stroke-width="1.5"/>
<line x1="345.24" y1="519.8" x2="345.24" y2="522.2" stroke="#000" stroke-width="1.5"/>
<line x1="347.66" y1="519.8" x2="347.66" y2="522.2" stroke="#000" stroke-width="1.5"/>
<line x1="363.6" y1="519.8" x2="363.6" y2="522.2" stroke="#000" stroke-width="1.5"/>
<line x1="372.93" y1="519.8" x2="372.93" y2="522.2" stroke="#000" stroke-width="1.5"/>
<line x1="379.55" y1="519.8" x2="379.55" y2="522.2" stroke="#000" stroke-width="1.5"/>
<line x1="384.68" y1="519.8" x2="384.68" y2="522.2" stroke="#000" stroke-width="1.5"/>
<line x1="388.87" y1="519.8" x2="388.87" y2="522.2" stroke="#000" stroke-width="1.5"/>
<line x1="392.42" y1="519.8" x2="392.42" y2="522.2" stroke="#000" stroke-width="1.5"/>
<line x1="395.49" y1="519.8" x2="395.49" y2="522.2" stroke="#000" stroke-width="1.5"/>
<line x1="398.2" y1="519.8" x2="398.2" y2="522.2" stroke="#000" stroke-width="1.5"/>
<line x1="400.62" y1="519.8" x2="400.62" y2="522.2" stroke="#000" stroke-width="1.5"/>
<line x1="416.56" y1="519.8" x2="416.56" y2="522.2" stroke="#000" stroke-width="1.5"/>
<line x1="425.89" y1="519.8" x2="425.89" y2="522.2" stroke="#000" stroke-width="1.5"/>
<line x1="432.51" y1="519.8" x2="432.51" y2="522.2" stroke="#000" stroke-width="1.5"/>
<line x1="437.64" y1="519.8" x2="437.64" y2="522.2" stroke="#000" stroke-width="1.5"/>
<line x1="441.83" y1="519.8" x2="441.83" y2="522.2" stroke="#000" stroke-width="1.5"/>
<line x1="445.38" y1="519.8" x2="445.38" y2="522.2" stroke="#000" stroke-width="1.5"/>
<line x1="448.45" y1="519.8" x2="448.45" y2="522.2" stroke="#000" stroke-width="1.5"/>
<line x1="451.16" y1="519.8" x2="451.16" y2="522.2" stroke="#000" stroke-width="1.5"/>
<line x1="453.58" y1="519.8" x2="453.58" y2="522.2" stroke="#000" stroke-width="1.5"/>
<line x1="469.52" y1="519.8" x2="469.52" y2="522.2" stroke="#000" stroke-width="1.5"/>
<line x1="478.85" y1="519.8" x2="478.85" y2="522.2" stroke="#000" stroke-width="1.5"/>
<line x1="485.47" y1="519.8" x2="485.47" y2="522.2" stroke="#000" stroke-width="1.5"/>
<line x1="490.6" y1="519.8" x2="490.6" y2="522.2" stroke="#000" stroke-width="1.5"/>
<text x="294.7" y="533" text-anchor="middle" font-size="8.5" >1</text>
<text x="347.66" y="533" text-anchor="middle" font-size="8.5" >10</text>
<text x="400.62" y="533" text-anchor="middle" font-size="8.5" >100</text>
<text x="453.58" y="533" text-anchor="middle" font-size="8.5" >1000</text>
<text x="379.5" y="544.4" text-anchor="middle" font-size="8.65" >particle diameter (nm)</text>
<text x="268.5" y="452.7" text-anchor="middle" font-size="8.65" transform="rotate(-90 268.5 452.7)">intensity (%)</text>
<text x="303.6" y="386.7" text-anchor="start" font-size="10.0" >F</text>
<text x="363" y="387.6" text-anchor="start" font-size="8.6" >PBS buffer</text>
<path d="M294.7,519.8 L333,519.8 L334,519 L335,519.8 L381.5,519.8 L382.9,517.7 L384.5,519.8 L387,519.2 L389,519.8 L405.5,519.8 L406.6,517.6 L407.8,519.8 L453.3,519.8 L455.5,475.4 L457.3,519.8 L458.2,519.8 L459.9,405.2 L461.4,519.8 L490.6,519.8" fill="none" stroke="#000" stroke-width="1.4" stroke-linejoin="round" />
<line x1="360.8" y1="411.1" x2="375.5" y2="411.1" stroke="#000" stroke-width="1.6"/>
<text x="377.2" y="414" text-anchor="start" font-size="8.5" >24 µg/mL</text>
</svg>
</body></html>
